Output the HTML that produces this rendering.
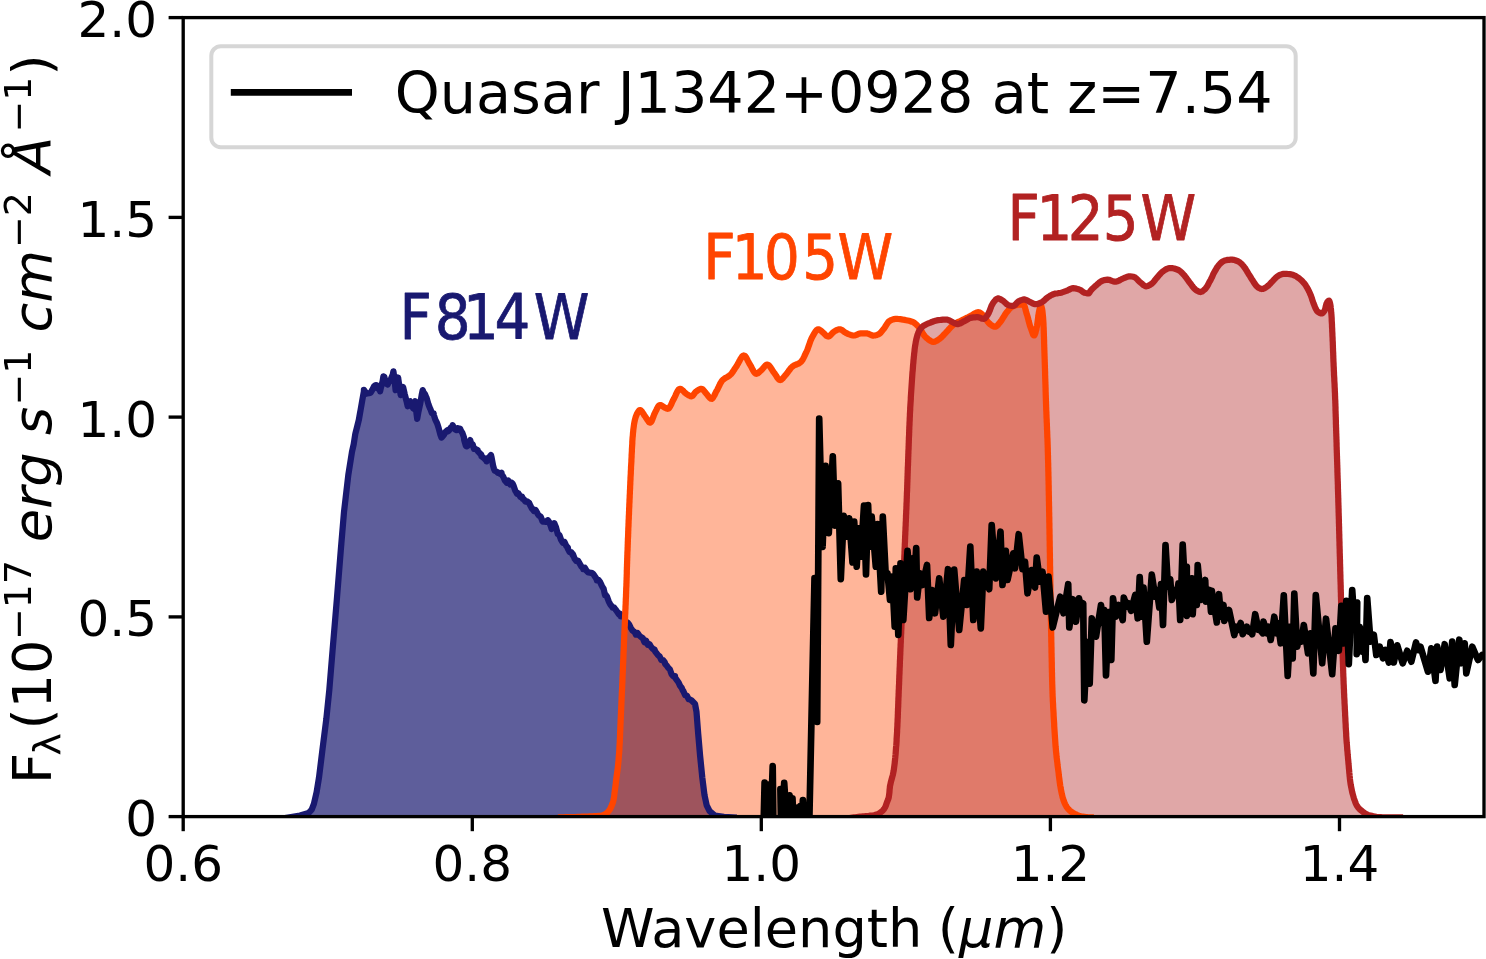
<!DOCTYPE html>
<html lang="en"><head><meta charset="utf-8"><title>Quasar J1342+0928 spectrum and HST filters</title>
<style>html,body{margin:0;padding:0;background:#fff;}body{width:1486px;height:959px;overflow:hidden;}svg{display:block;}text{font-family:"DejaVu Sans","Liberation Sans",sans-serif;fill:#000;}.it{font-style:oblique;}</style>
</head><body>
<svg width="1486" height="959" viewBox="0 0 1486 959">
<rect x="0" y="0" width="1486" height="959" fill="#ffffff"/>
<defs><clipPath id="ax"><rect x="183.2" y="17.6" width="1300.8" height="799.0"/></clipPath></defs>
<g clip-path="url(#ax)">
<path d="M288.0,817.6 L300.0,815.5 L308.5,813.1 L311.7,809.7 L313.9,803.9 L316.6,792.2 L319.0,777.6 L322.6,748.4 L326.3,719.2 L329.3,690.0 L332.6,650.0 L336.8,600.0 L340.8,550.0 L344.0,512.0 L348.3,475.0 L352.0,451.7 L353.7,444.3 L355.1,435.1 L355.4,433.5 L357.1,426.9 L358.8,420.1 L360.1,412.6 L360.5,410.5 L362.2,400.7 L363.9,391.3 L363.9,389.8 L365.6,392.2 L366.4,393.8 L367.3,393.3 L369.0,393.1 L370.7,392.7 L371.4,391.3 L372.4,389.6 L374.1,386.3 L375.8,385.0 L376.4,385.0 L377.5,388.4 L379.2,388.7 L380.1,391.3 L380.9,387.6 L382.6,381.4 L383.4,376.3 L384.3,376.9 L386.0,383.2 L386.4,383.8 L387.7,384.5 L389.4,380.8 L390.1,381.3 L391.1,378.5 L392.8,374.6 L393.4,371.3 L394.5,379.2 L395.6,390.1 L396.2,387.4 L397.9,379.7 L398.1,377.5 L399.6,388.3 L400.7,395.1 L401.3,393.0 L403.0,386.9 L403.2,387.5 L404.7,394.0 L406.4,400.6 L407.7,406.3 L408.1,405.4 L409.8,401.6 L410.2,401.3 L411.5,405.2 L413.2,408.4 L413.9,408.8 L414.9,402.3 L415.2,401.3 L416.6,414.1 L417.2,418.8 L418.3,412.4 L420.0,404.5 L420.2,403.8 L421.7,394.9 L422.7,390.1 L423.4,392.1 L425.1,394.4 L426.4,397.6 L426.8,398.5 L428.5,404.5 L430.2,408.8 L430.2,408.5 L431.9,413.1 L433.6,413.4 L433.9,415.1 L435.3,419.6 L437.0,423.0 L437.7,425.1 L438.7,428.2 L440.4,434.6 L441.5,437.6 L442.1,437.0 L443.8,435.0 L445.5,431.8 L447.2,430.4 L447.7,431.4 L448.9,430.6 L450.6,427.8 L452.3,426.3 L452.7,425.1 L454.0,428.4 L455.7,429.7 L456.5,430.1 L457.4,428.2 L459.1,428.5 L460.2,428.8 L460.8,430.5 L462.5,433.2 L464.0,437.6 L464.2,440.1 L465.9,445.9 L466.5,446.4 L467.6,445.8 L469.3,441.6 L470.2,440.1 L471.0,443.1 L472.7,444.5 L474.0,448.9 L474.4,448.3 L476.1,449.4 L477.7,450.1 L477.8,451.1 L479.5,453.0 L481.2,454.6 L481.5,456.4 L482.9,457.2 L484.6,458.8 L486.3,460.5 L486.5,461.4 L488.0,458.1 L489.7,456.6 L491.0,455.1 L491.4,456.7 L493.1,465.7 L494.0,468.9 L494.8,470.7 L496.5,471.5 L497.8,472.7 L498.2,472.5 L499.9,473.7 L501.5,472.7 L501.6,474.2 L503.3,476.8 L505.0,480.7 L505.3,480.2 L506.7,482.7 L508.4,480.6 L509.0,482.7 L510.1,484.4 L511.8,482.8 L512.8,483.9 L513.5,485.5 L515.2,490.6 L516.5,492.7 L516.9,493.8 L518.6,493.5 L520.3,497.0 L522.0,496.6 L522.8,498.9 L523.7,499.0 L525.4,501.6 L527.1,501.3 L528.8,502.9 L529.1,502.7 L530.5,505.9 L532.2,509.1 L532.8,508.9 L533.9,511.0 L535.6,510.0 L537.3,513.1 L537.8,514.0 L539.0,515.6 L540.7,516.7 L542.4,521.0 L542.8,521.5 L544.1,521.5 L545.8,521.9 L547.5,521.9 L547.8,520.2 L549.2,522.1 L550.9,526.4 L551.6,529.0 L552.6,527.9 L554.3,523.1 L554.6,524.0 L556.0,527.3 L557.7,533.8 L557.8,534.0 L559.4,535.1 L561.1,539.9 L562.8,542.7 L562.9,541.5 L564.5,541.9 L566.2,545.8 L567.9,547.7 L567.9,548.9 L569.6,552.1 L571.3,552.1 L572.9,555.3 L573.0,554.2 L574.7,558.9 L576.4,561.1 L577.9,561.5 L578.1,560.7 L579.8,563.7 L581.5,566.8 L582.9,567.8 L583.2,569.2 L584.9,567.9 L586.6,570.8 L588.3,572.5 L590.0,572.7 L590.4,572.8 L591.7,572.9 L593.4,574.1 L595.1,576.7 L596.6,579.0 L596.8,580.4 L598.5,580.0 L600.2,582.2 L601.9,585.9 L602.9,587.8 L603.6,588.6 L605.0,595.0 L605.3,594.2 L607.0,596.6 L608.7,601.3 L610.4,604.7 L612.1,606.6 L612.5,607.5 L613.8,607.3 L615.5,609.4 L617.2,611.8 L618.9,614.4 L620.0,613.8 L620.6,616.2 L622.3,615.5 L624.0,616.7 L625.7,621.6 L627.4,623.9 L627.5,622.5 L629.1,624.5 L630.8,627.9 L632.5,630.5 L634.2,631.8 L635.0,632.6 L635.9,634.6 L637.6,633.1 L639.3,635.5 L641.0,637.0 L642.7,637.9 L644.4,642.2 L645.1,641.3 L646.1,640.7 L647.8,644.7 L649.5,644.2 L651.2,647.0 L652.9,648.9 L654.6,649.7 L655.1,651.3 L656.3,652.9 L658.0,655.1 L659.7,656.5 L661.4,660.1 L663.1,660.1 L664.8,662.4 L665.1,663.8 L666.5,665.3 L668.2,667.7 L669.9,669.4 L671.6,674.3 L673.3,676.3 L675.0,676.1 L675.1,677.6 L676.7,679.8 L678.4,682.2 L680.1,685.8 L681.8,688.0 L682.6,690.1 L683.5,691.4 L685.2,695.3 L686.9,695.7 L688.6,699.1 L688.9,698.9 L691.4,700.2 L695.0,703.9 L696.5,711.9 L698.2,733.8 L700.1,755.7 L702.3,777.6 L704.5,795.1 L706.7,805.3 L709.6,811.2 L715.0,815.7 L724.0,816.8 L733.7,817.4 L733.7,816.6 L288.0,816.6 Z" fill="#191970" fill-opacity="0.7"/>
<path d="M561.0,817.3 L562.5,817.3 L564.0,817.3 L565.5,817.2 L567.0,817.2 L568.5,817.2 L570.0,817.1 L571.5,817.1 L573.0,817.1 L574.5,817.0 L576.0,817.0 L577.5,816.9 L579.0,816.8 L580.5,816.8 L582.0,816.7 L583.5,816.7 L585.0,816.6 L586.5,816.5 L588.0,816.5 L589.5,816.4 L591.0,816.4 L592.5,816.3 L594.0,816.2 L595.5,816.2 L597.0,816.1 L598.5,815.9 L600.0,815.8 L601.5,815.6 L602.9,815.2 L604.3,814.7 L605.6,813.9 L606.9,813.0 L607.9,812.0 L608.8,810.8 L609.7,809.6 L610.5,808.2 L611.1,806.9 L611.7,805.5 L612.3,804.1 L612.8,802.7 L613.2,801.2 L613.5,799.8 L613.8,798.3 L614.1,796.9 L614.3,795.4 L614.4,793.9 L614.6,792.4 L614.8,790.9 L615.0,789.4 L615.2,787.9 L615.4,786.4 L615.6,784.9 L615.8,783.4 L615.9,782.0 L616.1,780.5 L616.3,779.0 L616.5,777.5 L616.7,776.0 L616.9,774.5 L617.1,773.0 L617.3,771.5 L617.5,770.1 L617.7,768.6 L617.9,767.1 L618.0,765.6 L618.2,764.1 L618.3,762.6 L618.5,761.1 L618.6,759.6 L618.7,758.1 L618.8,756.6 L618.9,755.1 L619.1,753.6 L619.2,752.1 L619.3,750.6 L619.4,749.1 L619.4,747.6 L619.5,746.1 L619.6,744.6 L619.7,743.1 L619.8,741.6 L619.8,740.2 L619.9,738.7 L620.0,737.2 L620.0,735.7 L620.1,734.2 L620.1,732.7 L620.2,731.2 L620.3,729.7 L620.3,728.2 L620.4,726.7 L620.4,725.2 L620.5,723.7 L620.6,722.2 L620.6,720.7 L620.7,719.2 L620.8,717.7 L620.8,716.2 L620.9,714.7 L621.0,713.2 L621.0,711.7 L621.1,710.2 L621.2,708.7 L621.2,707.2 L621.3,705.7 L621.4,704.2 L621.4,702.7 L621.5,701.2 L621.6,699.7 L621.6,698.2 L621.7,696.7 L621.8,695.2 L621.8,693.7 L621.9,692.2 L622.0,690.7 L622.0,689.2 L622.1,687.7 L622.2,686.2 L622.2,684.7 L622.3,683.2 L622.4,681.7 L622.4,680.2 L622.5,678.7 L622.5,677.2 L622.6,675.7 L622.7,674.2 L622.7,672.7 L622.8,671.2 L622.9,669.7 L622.9,668.2 L623.0,666.7 L623.0,665.2 L623.1,663.7 L623.2,662.2 L623.2,660.7 L623.3,659.2 L623.4,657.7 L623.4,656.2 L623.5,654.7 L623.5,653.2 L623.6,651.7 L623.7,650.2 L623.7,648.7 L623.8,647.2 L623.9,645.7 L623.9,644.2 L624.0,642.7 L624.0,641.2 L624.1,639.7 L624.2,638.2 L624.2,636.7 L624.3,635.2 L624.4,633.7 L624.4,632.2 L624.5,630.7 L624.6,629.2 L624.6,627.8 L624.7,626.3 L624.8,624.8 L624.8,623.3 L624.9,621.8 L625.0,620.3 L625.0,618.8 L625.1,617.3 L625.1,615.8 L625.2,614.3 L625.3,612.8 L625.3,611.3 L625.4,609.8 L625.5,608.3 L625.5,606.8 L625.6,605.3 L625.7,603.8 L625.7,602.3 L625.8,600.8 L625.8,599.3 L625.9,597.8 L626.0,596.3 L626.0,594.8 L626.1,593.3 L626.1,591.8 L626.2,590.3 L626.2,588.8 L626.3,587.3 L626.4,585.8 L626.4,584.3 L626.5,582.8 L626.5,581.3 L626.6,579.8 L626.6,578.3 L626.7,576.8 L626.7,575.3 L626.8,573.8 L626.8,572.3 L626.8,570.8 L626.9,569.3 L626.9,567.8 L627.0,566.3 L627.0,564.8 L627.1,563.3 L627.1,561.8 L627.2,560.3 L627.2,558.8 L627.3,557.3 L627.3,555.8 L627.4,554.3 L627.4,552.8 L627.5,551.3 L627.6,549.8 L627.6,548.3 L627.7,546.8 L627.7,545.3 L627.8,543.8 L627.8,542.3 L627.9,540.8 L627.9,539.3 L628.0,537.8 L628.1,536.3 L628.1,534.8 L628.2,533.3 L628.2,531.8 L628.3,530.3 L628.3,528.8 L628.4,527.3 L628.5,525.8 L628.5,524.3 L628.6,522.8 L628.6,521.3 L628.7,519.8 L628.8,518.3 L628.8,516.8 L628.9,515.3 L629.0,513.8 L629.0,512.3 L629.1,510.8 L629.1,509.3 L629.2,507.8 L629.3,506.3 L629.3,504.8 L629.4,503.3 L629.5,501.8 L629.5,500.3 L629.6,498.8 L629.7,497.3 L629.7,495.8 L629.8,494.4 L629.9,492.9 L629.9,491.4 L630.0,489.9 L630.1,488.4 L630.1,486.9 L630.2,485.4 L630.3,483.9 L630.3,482.4 L630.4,480.9 L630.5,479.4 L630.5,477.9 L630.6,476.4 L630.7,474.9 L630.8,473.4 L630.8,471.9 L630.9,470.4 L631.0,468.9 L631.0,467.4 L631.1,465.9 L631.2,464.4 L631.3,462.9 L631.4,461.4 L631.4,459.9 L631.5,458.4 L631.6,456.9 L631.6,455.4 L631.7,453.9 L631.8,452.4 L631.9,450.9 L631.9,449.4 L632.0,447.9 L632.1,446.4 L632.2,444.9 L632.3,443.4 L632.3,441.9 L632.4,440.4 L632.5,438.9 L632.6,437.4 L632.8,435.9 L632.9,434.4 L633.0,432.9 L633.2,431.4 L633.3,429.9 L633.5,428.4 L633.7,426.9 L633.9,425.4 L634.1,423.9 L634.4,422.4 L634.7,420.9 L635.0,419.5 L635.4,418.1 L635.8,416.7 L636.5,415.0 L637.2,413.3 L638.1,411.8 L639.0,410.6 L639.9,410.1 L640.7,410.3 L641.7,411.2 L642.6,412.6 L643.6,414.1 L644.5,415.6 L645.5,416.9 L646.5,418.4 L647.4,419.9 L648.4,421.3 L649.3,422.3 L650.1,422.6 L650.9,422.2 L651.6,421.2 L652.2,419.8 L652.8,418.2 L653.5,416.4 L654.1,414.6 L654.8,413.1 L655.5,411.7 L656.3,410.1 L657.1,408.4 L657.9,406.9 L658.7,405.8 L659.7,405.1 L660.8,405.2 L662.1,405.8 L663.6,406.8 L665.1,407.8 L666.5,408.5 L667.6,408.8 L668.6,408.5 L669.4,407.7 L670.2,406.4 L671.0,404.9 L671.7,403.3 L672.4,401.6 L673.2,400.0 L674.0,398.6 L674.7,397.2 L675.5,395.5 L676.2,393.8 L677.0,392.2 L677.7,390.8 L678.6,389.6 L679.4,389.0 L680.4,388.8 L681.4,389.3 L682.6,390.3 L683.8,391.5 L685.0,392.8 L686.3,393.8 L687.6,394.6 L689.0,395.5 L690.4,396.1 L691.6,396.3 L692.7,395.7 L693.7,394.5 L694.7,393.1 L695.8,391.8 L697.0,390.9 L698.3,390.0 L699.8,389.2 L701.1,388.8 L702.2,389.0 L703.3,389.9 L704.4,391.2 L705.4,392.6 L706.4,393.8 L707.5,395.1 L708.6,396.5 L709.7,397.8 L710.7,398.6 L711.7,398.8 L712.6,398.2 L713.4,397.0 L714.3,395.5 L715.1,393.9 L715.8,392.3 L716.6,390.9 L717.4,389.6 L718.0,388.2 L718.7,386.8 L719.4,385.4 L720.0,384.0 L720.8,382.7 L721.5,381.4 L722.4,380.3 L723.4,379.4 L724.6,378.5 L725.9,377.7 L727.3,377.0 L728.6,376.2 L729.8,375.3 L730.9,374.3 L731.8,373.2 L732.7,372.0 L733.5,370.7 L734.4,369.4 L735.2,368.1 L736.0,366.9 L736.9,365.6 L737.7,364.1 L738.6,362.5 L739.5,360.9 L740.3,359.3 L741.2,357.9 L742.0,356.7 L742.9,355.9 L743.7,355.5 L744.6,355.7 L745.4,356.4 L746.2,357.6 L747.0,359.0 L747.8,360.7 L748.7,362.3 L749.5,363.9 L750.3,365.2 L751.2,366.7 L752.0,368.3 L752.8,369.9 L753.7,371.4 L754.5,372.6 L755.5,373.5 L756.4,373.8 L757.6,373.4 L758.8,372.5 L760.0,371.3 L761.3,370.2 L762.4,369.1 L763.5,367.8 L764.6,366.4 L765.7,365.3 L766.7,364.6 L767.7,364.6 L768.7,365.2 L769.7,366.2 L770.7,367.6 L771.6,369.0 L772.6,370.6 L773.5,372.0 L774.5,373.2 L775.4,374.6 L776.4,376.1 L777.3,377.6 L778.3,378.9 L779.2,379.7 L780.2,380.0 L781.3,379.7 L782.3,378.8 L783.4,377.6 L784.5,376.3 L785.6,374.9 L786.6,373.7 L787.6,372.5 L788.5,371.2 L789.4,370.0 L790.3,368.8 L791.3,367.6 L792.3,366.6 L793.5,365.8 L794.8,365.1 L796.3,364.5 L797.8,363.9 L799.1,363.3 L800.2,362.5 L801.2,361.6 L802.1,360.4 L802.9,359.2 L803.6,357.8 L804.3,356.4 L805.0,354.9 L805.6,353.5 L806.3,352.1 L806.9,350.8 L807.5,349.4 L808.0,348.0 L808.5,346.5 L809.0,345.1 L809.5,343.7 L810.0,342.2 L810.5,340.8 L811.1,339.4 L811.7,338.1 L812.4,336.8 L813.1,335.5 L814.0,333.9 L814.9,332.4 L815.8,331.0 L816.8,329.9 L817.9,329.3 L819.0,329.4 L820.2,330.1 L821.5,331.2 L822.8,332.3 L824.0,333.3 L825.2,334.6 L826.3,335.7 L827.5,336.4 L828.6,336.5 L829.8,335.9 L830.9,334.8 L832.0,333.5 L833.2,332.3 L834.4,331.4 L835.7,330.6 L837.2,329.9 L838.6,329.4 L840.0,329.3 L841.3,329.7 L842.6,330.5 L843.8,331.4 L845.1,332.4 L846.5,333.2 L847.8,333.8 L849.3,334.4 L850.7,334.9 L852.2,335.3 L853.6,335.5 L855.1,335.4 L856.5,334.9 L857.9,334.2 L859.3,333.6 L860.8,333.4 L862.3,333.4 L863.8,333.4 L865.3,333.4 L866.8,333.4 L868.2,333.7 L869.6,334.3 L871.0,335.0 L872.5,335.5 L873.9,335.5 L875.5,335.3 L877.0,334.9 L878.3,334.4 L879.5,333.8 L880.6,332.7 L881.6,331.5 L882.6,330.3 L883.6,329.1 L884.5,327.9 L885.4,326.5 L886.2,325.1 L887.0,323.8 L887.9,322.6 L888.8,321.5 L889.9,320.8 L891.2,320.1 L892.6,319.5 L894.2,319.1 L895.7,318.8 L897.1,318.9 L898.6,319.0 L900.1,319.2 L901.6,319.4 L903.1,319.7 L904.6,319.9 L906.1,320.2 L907.6,320.5 L909.1,320.8 L910.5,321.2 L911.9,321.7 L913.2,322.2 L914.5,323.0 L915.7,323.9 L916.8,325.0 L917.9,326.1 L918.9,327.2 L919.8,328.4 L920.7,329.6 L921.4,331.0 L922.2,332.3 L923.0,333.7 L923.8,334.9 L924.7,336.1 L925.7,337.1 L926.8,338.1 L928.1,339.2 L929.4,340.2 L930.7,341.0 L932.1,341.6 L933.4,341.8 L934.8,341.6 L936.2,341.0 L937.6,340.2 L938.9,339.3 L940.1,338.4 L941.2,337.5 L942.3,336.4 L943.3,335.3 L944.3,334.2 L945.4,333.1 L946.4,332.0 L947.5,330.9 L948.5,329.7 L949.5,328.6 L950.5,327.5 L951.6,326.4 L952.7,325.4 L953.8,324.5 L955.0,323.6 L956.3,322.9 L957.6,322.2 L959.0,321.6 L960.4,321.0 L961.8,320.3 L963.1,319.7 L964.4,319.0 L965.8,318.3 L967.1,317.7 L968.5,317.0 L969.8,316.3 L971.2,315.7 L972.5,314.9 L973.9,314.0 L975.2,313.2 L976.6,312.5 L977.9,312.2 L979.2,312.3 L980.5,313.0 L981.8,314.0 L983.0,315.2 L984.0,316.2 L984.9,317.4 L985.7,318.7 L986.5,320.0 L987.4,321.3 L988.3,322.5 L989.3,323.5 L990.5,324.5 L991.9,325.5 L993.3,326.3 L994.6,326.7 L995.8,326.6 L996.9,325.9 L998.1,324.7 L999.1,323.3 L1000.2,322.1 L1001.1,320.9 L1001.9,319.7 L1002.7,318.4 L1003.5,317.1 L1004.3,315.8 L1005.1,314.5 L1005.9,313.3 L1006.9,312.1 L1007.8,310.9 L1008.8,309.7 L1009.9,308.5 L1011.0,307.5 L1012.1,306.7 L1013.4,306.1 L1014.8,305.5 L1016.2,305.1 L1017.8,304.7 L1019.3,304.7 L1020.9,304.7 L1022.5,304.7 L1023.5,304.7 L1024.2,305.5 L1024.8,306.8 L1025.3,308.6 L1025.7,310.4 L1026.2,312.1 L1026.6,313.6 L1027.1,315.0 L1027.5,316.4 L1027.9,317.9 L1028.3,319.4 L1028.6,320.8 L1029.0,322.3 L1029.4,323.7 L1029.8,325.2 L1030.3,326.6 L1030.8,328.1 L1031.4,329.8 L1032.0,331.6 L1032.6,333.3 L1033.2,334.7 L1033.8,335.4 L1034.3,335.4 L1034.8,334.5 L1035.4,333.1 L1035.8,331.3 L1036.3,329.4 L1036.6,327.7 L1037.0,326.2 L1037.2,324.7 L1037.4,323.2 L1037.6,321.7 L1037.8,320.2 L1038.0,318.7 L1038.2,317.2 L1038.3,315.7 L1038.6,314.3 L1038.8,312.8 L1039.1,311.3 L1039.4,309.8 L1040.0,308.0 L1040.5,306.4 L1041.0,305.9 L1041.4,306.4 L1041.7,307.5 L1042.1,309.1 L1042.4,310.9 L1042.6,312.8 L1042.8,314.8 L1043.0,316.5 L1043.1,318.0 L1043.2,319.4 L1043.3,320.9 L1043.4,322.4 L1043.5,323.9 L1043.5,325.4 L1043.6,326.9 L1043.7,328.4 L1043.7,329.9 L1043.8,331.4 L1043.8,332.9 L1043.9,334.4 L1043.9,335.9 L1044.0,337.4 L1044.0,338.9 L1044.1,340.4 L1044.1,341.9 L1044.1,343.4 L1044.2,344.9 L1044.2,346.4 L1044.3,347.9 L1044.3,349.4 L1044.4,350.9 L1044.4,352.4 L1044.5,353.9 L1044.5,355.4 L1044.6,356.9 L1044.6,358.4 L1044.7,359.9 L1044.7,361.4 L1044.8,362.9 L1044.8,364.4 L1044.9,365.9 L1044.9,367.4 L1045.0,368.9 L1045.0,370.4 L1045.1,371.9 L1045.1,373.4 L1045.1,374.9 L1045.2,376.4 L1045.2,377.9 L1045.3,379.4 L1045.3,380.9 L1045.4,382.4 L1045.4,383.9 L1045.5,385.4 L1045.5,386.9 L1045.6,388.4 L1045.6,389.9 L1045.6,391.4 L1045.7,392.9 L1045.7,394.4 L1045.8,395.9 L1045.8,397.4 L1045.9,398.9 L1045.9,400.4 L1046.0,401.9 L1046.0,403.4 L1046.1,404.9 L1046.1,406.4 L1046.2,407.9 L1046.2,409.4 L1046.3,410.9 L1046.4,412.4 L1046.4,413.9 L1046.5,415.4 L1046.5,416.9 L1046.6,418.4 L1046.7,419.9 L1046.7,421.4 L1046.8,422.9 L1046.9,424.4 L1046.9,425.9 L1047.0,427.4 L1047.0,428.9 L1047.1,430.4 L1047.2,431.9 L1047.2,433.4 L1047.3,434.9 L1047.3,436.4 L1047.4,437.9 L1047.5,439.4 L1047.5,440.9 L1047.6,442.4 L1047.6,443.9 L1047.7,445.4 L1047.7,446.9 L1047.8,448.4 L1047.8,449.9 L1047.8,451.4 L1047.9,452.9 L1047.9,454.4 L1048.0,455.9 L1048.0,457.4 L1048.0,458.9 L1048.1,460.4 L1048.1,461.9 L1048.2,463.4 L1048.2,464.9 L1048.2,466.4 L1048.3,467.9 L1048.3,469.4 L1048.3,470.9 L1048.4,472.4 L1048.4,473.9 L1048.4,475.4 L1048.5,476.9 L1048.5,478.4 L1048.5,479.9 L1048.6,481.4 L1048.6,482.9 L1048.6,484.4 L1048.7,485.9 L1048.7,487.4 L1048.7,488.9 L1048.7,490.4 L1048.8,491.9 L1048.8,493.4 L1048.8,494.9 L1048.9,496.4 L1048.9,497.9 L1048.9,499.4 L1048.9,500.9 L1049.0,502.4 L1049.0,503.9 L1049.0,505.4 L1049.1,506.9 L1049.1,508.4 L1049.1,509.9 L1049.1,511.4 L1049.2,512.9 L1049.2,514.4 L1049.2,515.9 L1049.3,517.4 L1049.3,518.9 L1049.3,520.4 L1049.3,521.9 L1049.4,523.4 L1049.4,524.9 L1049.4,526.4 L1049.4,527.9 L1049.5,529.4 L1049.5,530.9 L1049.5,532.4 L1049.5,533.9 L1049.6,535.4 L1049.6,536.9 L1049.6,538.4 L1049.6,539.9 L1049.7,541.4 L1049.7,542.9 L1049.7,544.4 L1049.7,545.9 L1049.8,547.4 L1049.8,548.9 L1049.8,550.4 L1049.8,551.9 L1049.9,553.4 L1049.9,554.9 L1049.9,556.4 L1049.9,557.9 L1050.0,559.4 L1050.0,560.9 L1050.0,562.4 L1050.0,563.9 L1050.0,565.4 L1050.1,566.9 L1050.1,568.4 L1050.1,569.9 L1050.1,571.4 L1050.2,572.9 L1050.2,574.4 L1050.2,575.9 L1050.2,577.4 L1050.3,578.9 L1050.3,580.4 L1050.3,581.9 L1050.3,583.4 L1050.4,584.9 L1050.4,586.4 L1050.4,587.9 L1050.4,589.4 L1050.4,590.9 L1050.5,592.4 L1050.5,593.9 L1050.5,595.4 L1050.5,596.9 L1050.6,598.4 L1050.6,599.9 L1050.6,601.4 L1050.6,602.9 L1050.7,604.4 L1050.7,605.9 L1050.7,607.4 L1050.8,608.9 L1050.8,610.4 L1050.8,611.9 L1050.8,613.4 L1050.9,614.9 L1050.9,616.4 L1050.9,617.9 L1050.9,619.4 L1051.0,620.9 L1051.0,622.3 L1051.0,623.8 L1051.0,625.3 L1051.1,626.8 L1051.1,628.3 L1051.1,629.8 L1051.1,631.3 L1051.2,632.8 L1051.2,634.3 L1051.2,635.8 L1051.3,637.3 L1051.3,638.8 L1051.3,640.3 L1051.3,641.8 L1051.4,643.3 L1051.4,644.8 L1051.4,646.3 L1051.5,647.8 L1051.5,649.3 L1051.5,650.8 L1051.5,652.3 L1051.6,653.8 L1051.6,655.3 L1051.6,656.8 L1051.7,658.3 L1051.7,659.8 L1051.7,661.3 L1051.8,662.8 L1051.8,664.3 L1051.8,665.8 L1051.8,667.3 L1051.9,668.8 L1051.9,670.3 L1051.9,671.8 L1052.0,673.3 L1052.0,674.8 L1052.0,676.3 L1052.1,677.8 L1052.1,679.3 L1052.1,680.8 L1052.2,682.3 L1052.2,683.8 L1052.3,685.3 L1052.3,686.8 L1052.4,688.3 L1052.4,689.8 L1052.5,691.3 L1052.5,692.8 L1052.6,694.3 L1052.6,695.8 L1052.7,697.3 L1052.8,698.8 L1052.8,700.3 L1052.9,701.8 L1053.0,703.3 L1053.1,704.8 L1053.1,706.3 L1053.2,707.8 L1053.3,709.3 L1053.4,710.8 L1053.5,712.3 L1053.6,713.8 L1053.6,715.3 L1053.7,716.8 L1053.8,718.3 L1053.9,719.8 L1054.0,721.3 L1054.1,722.8 L1054.2,724.3 L1054.2,725.8 L1054.3,727.3 L1054.4,728.8 L1054.5,730.3 L1054.6,731.8 L1054.7,733.3 L1054.8,734.8 L1054.9,736.3 L1055.0,737.8 L1055.1,739.3 L1055.2,740.8 L1055.3,742.3 L1055.4,743.8 L1055.5,745.2 L1055.6,746.7 L1055.8,748.2 L1055.9,749.7 L1056.0,751.2 L1056.2,752.7 L1056.3,754.2 L1056.5,755.7 L1056.6,757.2 L1056.8,758.7 L1057.0,760.2 L1057.2,761.7 L1057.4,763.2 L1057.5,764.6 L1057.7,766.1 L1057.9,767.6 L1058.1,769.1 L1058.3,770.6 L1058.5,772.1 L1058.7,773.6 L1058.8,775.1 L1059.0,776.6 L1059.2,778.0 L1059.4,779.5 L1059.6,781.0 L1059.8,782.5 L1060.0,784.0 L1060.2,785.5 L1060.5,787.0 L1060.7,788.4 L1061.0,789.9 L1061.3,791.4 L1061.6,792.9 L1061.9,794.3 L1062.3,795.8 L1062.6,797.3 L1063.1,798.7 L1063.5,800.1 L1064.0,801.5 L1064.6,802.9 L1065.2,804.3 L1065.9,805.7 L1066.7,807.0 L1067.6,808.2 L1068.5,809.3 L1069.5,810.3 L1070.7,811.3 L1071.9,812.2 L1073.2,813.0 L1074.5,813.7 L1075.9,814.4 L1077.3,815.1 L1078.7,815.7 L1080.1,816.1 L1081.5,816.4 L1083.0,816.6 L1084.5,816.8 L1085.9,817.0 L1087.4,817.2 L1089.0,817.3 L1090.5,817.3 L1090.8,817.3 L1090.8,816.6 L561.0,816.6 Z" fill="#ff4500" fill-opacity="0.4"/>
<path d="M848.0,818.2 L849.5,818.0 L851.0,817.8 L852.5,817.6 L854.0,817.4 L855.4,817.3 L856.9,817.1 L858.4,816.9 L859.9,816.7 L861.4,816.6 L862.9,816.4 L864.4,816.3 L865.9,816.1 L867.4,816.0 L868.9,815.9 L870.4,815.7 L871.9,815.5 L873.3,815.3 L874.8,815.0 L876.3,814.6 L877.7,814.1 L879.0,813.5 L880.3,812.7 L881.5,811.7 L882.6,810.7 L883.6,809.5 L884.5,808.3 L885.2,807.1 L885.8,805.7 L886.3,804.2 L886.8,802.8 L887.3,801.4 L887.9,800.0 L888.4,798.6 L888.8,797.2 L889.0,795.7 L889.2,794.2 L889.4,792.7 L889.5,791.2 L889.6,789.7 L889.8,788.2 L889.9,786.7 L890.2,785.2 L890.5,783.8 L890.8,782.3 L891.2,780.9 L891.6,779.4 L892.0,777.9 L892.4,776.5 L892.8,775.0 L893.1,773.6 L893.4,772.1 L893.7,770.6 L893.9,769.2 L894.1,767.7 L894.3,766.2 L894.5,764.7 L894.7,763.2 L894.8,761.7 L895.0,760.3 L895.1,758.8 L895.3,757.3 L895.4,755.8 L895.6,754.3 L895.7,752.8 L895.8,751.3 L895.9,749.8 L896.0,748.3 L896.1,746.8 L896.3,745.3 L896.4,743.8 L896.5,742.3 L896.6,740.8 L896.6,739.3 L896.7,737.8 L896.8,736.3 L896.9,734.8 L897.0,733.3 L897.1,731.8 L897.1,730.3 L897.2,728.8 L897.3,727.3 L897.4,725.8 L897.4,724.3 L897.5,722.8 L897.6,721.3 L897.6,719.8 L897.7,718.3 L897.8,716.8 L897.8,715.3 L897.9,713.8 L897.9,712.3 L898.0,710.8 L898.0,709.3 L898.1,707.8 L898.2,706.3 L898.2,704.8 L898.3,703.3 L898.3,701.8 L898.4,700.3 L898.4,698.8 L898.5,697.3 L898.6,695.8 L898.6,694.3 L898.7,692.8 L898.7,691.3 L898.8,689.8 L898.9,688.3 L898.9,686.8 L899.0,685.3 L899.1,683.8 L899.1,682.3 L899.2,680.8 L899.2,679.3 L899.3,677.8 L899.3,676.3 L899.4,674.8 L899.5,673.3 L899.5,671.9 L899.6,670.4 L899.6,668.9 L899.7,667.4 L899.8,665.9 L899.8,664.4 L899.9,662.9 L899.9,661.4 L900.0,659.9 L900.1,658.4 L900.1,656.9 L900.2,655.4 L900.3,653.9 L900.3,652.4 L900.4,650.9 L900.4,649.4 L900.5,647.9 L900.6,646.4 L900.6,644.9 L900.7,643.4 L900.8,641.9 L900.8,640.4 L900.9,638.9 L901.0,637.4 L901.0,635.9 L901.1,634.4 L901.2,632.9 L901.2,631.4 L901.3,629.9 L901.4,628.4 L901.4,626.9 L901.5,625.4 L901.5,623.9 L901.6,622.4 L901.7,620.9 L901.7,619.4 L901.8,617.9 L901.9,616.4 L901.9,614.9 L902.0,613.4 L902.1,611.9 L902.1,610.4 L902.2,608.9 L902.3,607.4 L902.3,605.9 L902.4,604.4 L902.5,602.9 L902.5,601.4 L902.6,599.9 L902.6,598.4 L902.7,596.9 L902.8,595.4 L902.8,593.9 L902.9,592.4 L903.0,590.9 L903.0,589.4 L903.1,587.9 L903.1,586.4 L903.2,584.9 L903.3,583.4 L903.3,581.9 L903.4,580.4 L903.4,578.9 L903.5,577.4 L903.6,575.9 L903.6,574.4 L903.7,572.9 L903.7,571.4 L903.8,569.9 L903.9,568.4 L903.9,566.9 L904.0,565.4 L904.0,563.9 L904.1,562.4 L904.2,560.9 L904.2,559.4 L904.3,557.9 L904.3,556.5 L904.4,555.0 L904.5,553.5 L904.5,552.0 L904.6,550.5 L904.6,549.0 L904.7,547.5 L904.8,546.0 L904.8,544.5 L904.9,543.0 L905.0,541.5 L905.0,540.0 L905.1,538.5 L905.1,537.0 L905.2,535.5 L905.3,534.0 L905.3,532.5 L905.4,531.0 L905.5,529.5 L905.5,528.0 L905.6,526.5 L905.7,525.0 L905.7,523.5 L905.8,522.0 L905.9,520.5 L905.9,519.0 L906.0,517.5 L906.0,516.0 L906.1,514.5 L906.2,513.0 L906.2,511.5 L906.3,510.0 L906.4,508.5 L906.4,507.0 L906.5,505.5 L906.5,504.0 L906.6,502.5 L906.7,501.0 L906.7,499.5 L906.8,498.0 L906.8,496.5 L906.9,495.0 L906.9,493.5 L907.0,492.0 L907.1,490.5 L907.1,489.0 L907.2,487.5 L907.2,486.0 L907.3,484.5 L907.3,483.0 L907.4,481.5 L907.4,480.0 L907.5,478.5 L907.5,477.0 L907.6,475.5 L907.6,474.0 L907.7,472.5 L907.7,471.0 L907.8,469.5 L907.8,468.0 L907.9,466.5 L908.0,465.0 L908.0,463.5 L908.1,462.0 L908.1,460.5 L908.2,459.0 L908.2,457.5 L908.3,456.0 L908.3,454.5 L908.4,453.0 L908.4,451.5 L908.5,450.0 L908.6,448.5 L908.6,447.0 L908.7,445.5 L908.7,444.0 L908.8,442.5 L908.8,441.0 L908.9,439.5 L908.9,438.0 L909.0,436.5 L909.1,435.0 L909.1,433.5 L909.2,432.0 L909.2,430.5 L909.3,429.0 L909.3,427.5 L909.4,426.0 L909.5,424.6 L909.5,423.1 L909.6,421.6 L909.7,420.1 L909.7,418.6 L909.8,417.1 L909.9,415.6 L909.9,414.1 L910.0,412.6 L910.1,411.1 L910.2,409.6 L910.2,408.1 L910.3,406.6 L910.4,405.1 L910.5,403.6 L910.6,402.1 L910.7,400.6 L910.8,399.1 L910.8,397.6 L910.9,396.1 L911.0,394.6 L911.1,393.1 L911.2,391.6 L911.3,390.1 L911.4,388.6 L911.5,387.1 L911.6,385.6 L911.7,384.1 L911.8,382.6 L911.9,381.1 L912.0,379.6 L912.1,378.1 L912.2,376.6 L912.3,375.1 L912.4,373.6 L912.5,372.1 L912.7,370.6 L912.8,369.1 L912.9,367.7 L913.0,366.2 L913.1,364.7 L913.3,363.2 L913.4,361.7 L913.5,360.2 L913.7,358.7 L913.8,357.2 L914.0,355.7 L914.1,354.2 L914.3,352.7 L914.5,351.2 L914.6,349.7 L914.8,348.2 L915.0,346.7 L915.2,345.3 L915.5,343.8 L915.7,342.3 L916.0,340.8 L916.3,339.4 L916.7,337.9 L917.1,336.4 L917.5,334.9 L918.0,333.5 L918.5,332.2 L919.1,330.9 L919.9,329.6 L920.9,328.3 L921.9,327.2 L923.0,326.2 L924.2,325.4 L925.5,324.7 L926.9,324.0 L928.3,323.4 L929.7,322.9 L931.1,322.3 L932.5,321.8 L933.9,321.2 L935.4,320.8 L936.8,320.4 L938.3,320.2 L939.8,320.0 L941.3,319.8 L942.8,319.6 L944.3,319.5 L945.8,319.5 L947.2,319.6 L948.6,320.1 L950.0,320.8 L951.4,321.5 L952.7,322.2 L954.1,322.9 L955.5,323.6 L956.9,324.0 L958.3,324.0 L959.7,323.6 L961.1,322.9 L962.5,322.2 L963.8,321.4 L965.2,320.7 L966.5,320.0 L967.8,319.2 L969.2,318.4 L970.5,317.9 L972.0,317.6 L973.4,317.4 L975.0,317.3 L976.5,317.2 L978.0,317.2 L979.5,317.6 L981.0,318.2 L982.4,318.7 L983.7,318.8 L984.9,318.3 L986.0,317.1 L987.0,315.7 L987.9,314.4 L988.6,313.2 L989.2,311.8 L989.8,310.4 L990.3,308.9 L990.9,307.5 L991.4,306.0 L992.1,304.7 L992.8,303.4 L993.7,302.2 L994.7,300.9 L995.8,299.6 L997.0,298.7 L998.2,298.4 L999.5,298.7 L1000.9,299.5 L1002.3,300.4 L1003.6,301.2 L1004.7,302.2 L1005.9,303.4 L1007.0,304.4 L1008.2,305.1 L1009.6,305.5 L1011.1,305.8 L1012.6,305.9 L1013.9,305.6 L1015.1,304.8 L1016.2,303.6 L1017.3,302.4 L1018.5,301.4 L1019.9,300.7 L1021.3,300.1 L1022.8,299.6 L1024.2,299.4 L1025.6,299.7 L1027.0,300.4 L1028.3,301.2 L1029.7,301.8 L1031.1,302.5 L1032.5,303.3 L1033.9,303.9 L1035.3,304.2 L1036.7,304.2 L1038.2,303.8 L1039.6,303.3 L1041.0,302.6 L1042.3,302.0 L1043.5,301.1 L1044.6,300.1 L1045.7,299.0 L1046.9,298.0 L1048.0,297.1 L1049.3,296.3 L1050.6,295.5 L1052.0,294.8 L1053.3,294.2 L1054.8,293.7 L1056.2,293.5 L1057.7,293.3 L1059.2,293.0 L1060.7,292.8 L1062.1,292.4 L1063.6,291.9 L1065.0,291.4 L1066.4,290.9 L1067.8,290.3 L1069.2,289.6 L1070.6,288.9 L1071.9,288.4 L1073.4,288.2 L1074.8,288.3 L1076.3,288.6 L1077.8,289.1 L1079.2,289.5 L1080.6,290.1 L1081.8,291.0 L1083.1,292.0 L1084.4,292.7 L1085.8,293.0 L1087.5,293.3 L1088.8,293.4 L1089.6,292.3 L1090.4,291.0 L1091.4,289.8 L1092.4,288.7 L1093.5,287.7 L1094.6,286.7 L1095.8,285.7 L1096.9,284.7 L1098.1,283.7 L1099.3,282.6 L1100.5,281.7 L1101.7,281.0 L1103.1,280.5 L1104.5,280.1 L1106.0,279.8 L1107.5,279.6 L1109.0,279.8 L1110.4,280.3 L1111.9,280.9 L1113.3,281.4 L1114.8,281.7 L1116.2,281.6 L1117.6,281.2 L1118.9,280.6 L1120.3,279.9 L1121.7,279.1 L1123.1,278.5 L1124.5,277.9 L1125.9,277.3 L1127.4,276.7 L1128.8,276.4 L1130.2,276.3 L1131.8,276.5 L1133.3,276.8 L1134.6,277.2 L1135.8,278.0 L1136.9,279.0 L1138.0,280.2 L1139.1,281.3 L1140.3,282.3 L1141.5,283.3 L1142.7,284.4 L1144.0,285.4 L1145.2,286.1 L1146.5,286.3 L1147.9,286.0 L1149.3,285.3 L1150.7,284.4 L1151.9,283.6 L1152.9,282.6 L1153.9,281.5 L1154.9,280.3 L1155.8,279.0 L1156.8,277.9 L1157.8,276.7 L1158.8,275.5 L1159.8,274.4 L1160.8,273.2 L1161.9,272.2 L1163.0,271.3 L1164.2,270.5 L1165.5,269.6 L1166.9,268.9 L1168.4,268.3 L1169.8,268.0 L1171.2,268.0 L1172.7,268.2 L1174.2,268.5 L1175.7,269.0 L1177.1,269.5 L1178.4,270.0 L1179.7,270.8 L1180.8,271.8 L1182.0,272.9 L1183.0,274.0 L1184.1,275.1 L1185.0,276.2 L1186.0,277.4 L1186.8,278.6 L1187.7,279.8 L1188.6,281.1 L1189.4,282.3 L1190.4,283.5 L1191.3,284.7 L1192.2,286.0 L1193.1,287.2 L1194.1,288.3 L1195.1,289.3 L1196.3,290.2 L1197.7,291.0 L1199.1,291.7 L1200.5,292.0 L1201.9,291.6 L1203.2,290.7 L1204.4,289.7 L1205.4,288.7 L1206.3,287.6 L1207.1,286.3 L1207.9,285.0 L1208.6,283.6 L1209.3,282.2 L1210.1,280.9 L1210.8,279.6 L1211.4,278.2 L1212.1,276.9 L1212.7,275.5 L1213.3,274.1 L1214.0,272.8 L1214.7,271.5 L1215.5,270.2 L1216.2,268.9 L1217.0,267.5 L1217.9,266.3 L1218.8,265.1 L1219.8,264.0 L1220.8,263.0 L1222.0,262.0 L1223.3,261.2 L1224.7,260.5 L1226.1,260.2 L1227.5,259.9 L1229.1,259.8 L1230.6,259.7 L1232.1,259.6 L1233.6,259.8 L1235.1,260.2 L1236.5,260.7 L1237.9,261.2 L1239.2,261.9 L1240.3,262.8 L1241.5,263.8 L1242.5,265.0 L1243.5,266.1 L1244.4,267.3 L1245.3,268.5 L1246.1,269.8 L1246.9,271.1 L1247.6,272.4 L1248.4,273.7 L1249.2,274.9 L1250.0,276.2 L1250.8,277.5 L1251.6,278.8 L1252.4,280.1 L1253.2,281.3 L1254.0,282.6 L1254.9,283.9 L1255.8,285.2 L1256.7,286.3 L1257.8,287.3 L1259.0,288.0 L1260.5,288.7 L1261.9,289.0 L1263.3,288.8 L1264.7,288.1 L1266.0,287.3 L1267.3,286.4 L1268.4,285.5 L1269.5,284.4 L1270.5,283.3 L1271.5,282.2 L1272.6,281.1 L1273.6,280.0 L1274.7,278.9 L1275.8,277.8 L1276.9,276.8 L1278.1,275.9 L1279.3,275.2 L1280.7,274.6 L1282.2,274.1 L1283.7,273.8 L1285.1,273.8 L1286.7,273.9 L1288.2,274.0 L1289.7,274.2 L1291.1,274.4 L1292.6,274.7 L1294.0,275.3 L1295.4,275.9 L1296.7,276.7 L1298.0,277.6 L1299.2,278.4 L1300.3,279.3 L1301.5,280.3 L1302.5,281.4 L1303.5,282.6 L1304.5,283.7 L1305.4,284.9 L1306.2,286.2 L1307.0,287.4 L1307.7,288.8 L1308.4,290.1 L1309.1,291.5 L1309.7,292.8 L1310.3,294.2 L1310.9,295.6 L1311.4,297.0 L1311.9,298.4 L1312.3,299.9 L1312.8,301.3 L1313.3,302.7 L1313.8,304.1 L1314.4,305.5 L1315.0,307.0 L1315.6,308.4 L1316.3,309.8 L1317.0,311.0 L1318.0,311.9 L1319.5,312.8 L1320.9,313.4 L1322.2,313.3 L1323.4,312.3 L1324.4,310.9 L1325.0,309.6 L1325.4,308.2 L1325.7,306.6 L1326.1,305.1 L1326.5,303.7 L1327.2,302.3 L1328.3,300.9 L1329.0,300.6 L1329.5,301.3 L1329.9,302.6 L1330.3,304.4 L1330.6,306.3 L1330.8,308.2 L1331.0,309.7 L1331.1,311.2 L1331.2,312.7 L1331.4,314.2 L1331.5,315.7 L1331.6,317.2 L1331.7,318.7 L1331.7,320.2 L1331.8,321.7 L1331.9,323.2 L1332.0,324.7 L1332.0,326.2 L1332.1,327.7 L1332.2,329.2 L1332.2,330.7 L1332.3,332.2 L1332.4,333.7 L1332.4,335.2 L1332.5,336.7 L1332.6,338.2 L1332.6,339.7 L1332.7,341.2 L1332.8,342.7 L1332.8,344.2 L1332.9,345.7 L1332.9,347.2 L1333.0,348.7 L1333.0,350.2 L1333.1,351.7 L1333.2,353.2 L1333.2,354.7 L1333.3,356.2 L1333.3,357.7 L1333.4,359.2 L1333.4,360.7 L1333.5,362.2 L1333.6,363.7 L1333.6,365.2 L1333.7,366.7 L1333.8,368.2 L1333.8,369.7 L1333.9,371.2 L1334.0,372.7 L1334.0,374.2 L1334.1,375.7 L1334.2,377.2 L1334.3,378.7 L1334.3,380.2 L1334.4,381.7 L1334.5,383.2 L1334.6,384.7 L1334.6,386.2 L1334.7,387.7 L1334.8,389.2 L1334.8,390.7 L1334.9,392.2 L1335.0,393.7 L1335.0,395.2 L1335.1,396.7 L1335.1,398.2 L1335.2,399.7 L1335.3,401.1 L1335.3,402.6 L1335.4,404.1 L1335.4,405.6 L1335.5,407.1 L1335.5,408.6 L1335.5,410.1 L1335.6,411.6 L1335.6,413.1 L1335.7,414.6 L1335.7,416.1 L1335.8,417.6 L1335.8,419.1 L1335.9,420.6 L1335.9,422.1 L1335.9,423.6 L1336.0,425.1 L1336.0,426.6 L1336.1,428.1 L1336.1,429.6 L1336.2,431.1 L1336.2,432.6 L1336.3,434.1 L1336.3,435.6 L1336.4,437.1 L1336.4,438.6 L1336.5,440.1 L1336.5,441.6 L1336.6,443.1 L1336.6,444.6 L1336.6,446.1 L1336.7,447.6 L1336.7,449.1 L1336.8,450.6 L1336.8,452.1 L1336.9,453.6 L1336.9,455.1 L1337.0,456.6 L1337.0,458.1 L1337.1,459.6 L1337.1,461.1 L1337.2,462.6 L1337.2,464.1 L1337.3,465.6 L1337.3,467.1 L1337.4,468.6 L1337.4,470.1 L1337.4,471.6 L1337.5,473.1 L1337.5,474.6 L1337.6,476.1 L1337.6,477.6 L1337.7,479.1 L1337.7,480.6 L1337.8,482.1 L1337.8,483.6 L1337.9,485.1 L1337.9,486.6 L1337.9,488.1 L1338.0,489.6 L1338.0,491.1 L1338.1,492.6 L1338.1,494.1 L1338.2,495.6 L1338.2,497.1 L1338.3,498.6 L1338.3,500.1 L1338.3,501.6 L1338.4,503.1 L1338.4,504.6 L1338.5,506.1 L1338.5,507.6 L1338.6,509.1 L1338.6,510.6 L1338.6,512.1 L1338.7,513.6 L1338.7,515.1 L1338.8,516.6 L1338.8,518.1 L1338.9,519.6 L1338.9,521.1 L1338.9,522.6 L1339.0,524.1 L1339.0,525.6 L1339.1,527.1 L1339.1,528.6 L1339.1,530.1 L1339.2,531.6 L1339.2,533.1 L1339.3,534.6 L1339.3,536.1 L1339.3,537.6 L1339.4,539.1 L1339.4,540.6 L1339.5,542.1 L1339.5,543.6 L1339.5,545.1 L1339.6,546.6 L1339.6,548.1 L1339.7,549.6 L1339.7,551.1 L1339.7,552.6 L1339.8,554.1 L1339.8,555.6 L1339.9,557.1 L1339.9,558.6 L1340.0,560.1 L1340.0,561.6 L1340.0,563.1 L1340.1,564.6 L1340.1,566.1 L1340.2,567.6 L1340.2,569.1 L1340.2,570.6 L1340.3,572.1 L1340.3,573.6 L1340.4,575.1 L1340.4,576.6 L1340.4,578.1 L1340.5,579.6 L1340.5,581.1 L1340.6,582.6 L1340.6,584.1 L1340.7,585.6 L1340.7,587.1 L1340.7,588.6 L1340.8,590.1 L1340.8,591.6 L1340.9,593.1 L1340.9,594.6 L1340.9,596.1 L1341.0,597.6 L1341.0,599.1 L1341.1,600.6 L1341.1,602.1 L1341.2,603.6 L1341.2,605.1 L1341.2,606.6 L1341.3,608.1 L1341.3,609.6 L1341.4,611.1 L1341.4,612.6 L1341.5,614.1 L1341.5,615.6 L1341.5,617.1 L1341.6,618.6 L1341.6,620.1 L1341.7,621.6 L1341.7,623.1 L1341.7,624.6 L1341.8,626.1 L1341.8,627.6 L1341.9,629.1 L1341.9,630.6 L1342.0,632.1 L1342.0,633.6 L1342.1,635.1 L1342.1,636.5 L1342.1,638.0 L1342.2,639.5 L1342.2,641.0 L1342.3,642.5 L1342.3,644.0 L1342.4,645.5 L1342.4,647.0 L1342.5,648.5 L1342.5,650.0 L1342.6,651.5 L1342.6,653.0 L1342.7,654.5 L1342.7,656.0 L1342.7,657.5 L1342.8,659.0 L1342.8,660.5 L1342.9,662.0 L1342.9,663.5 L1343.0,665.0 L1343.0,666.5 L1343.1,668.0 L1343.1,669.5 L1343.2,671.0 L1343.2,672.5 L1343.3,674.0 L1343.3,675.5 L1343.4,677.0 L1343.5,678.5 L1343.5,680.0 L1343.6,681.5 L1343.6,683.0 L1343.7,684.5 L1343.8,686.0 L1343.8,687.5 L1343.9,689.0 L1344.0,690.5 L1344.0,692.0 L1344.1,693.5 L1344.2,695.0 L1344.2,696.5 L1344.3,698.0 L1344.4,699.5 L1344.5,701.0 L1344.5,702.5 L1344.6,704.0 L1344.7,705.5 L1344.8,707.0 L1344.8,708.5 L1344.9,710.0 L1345.0,711.5 L1345.1,713.0 L1345.1,714.5 L1345.2,716.0 L1345.3,717.5 L1345.4,719.0 L1345.4,720.5 L1345.5,722.0 L1345.6,723.5 L1345.7,725.0 L1345.7,726.5 L1345.8,728.0 L1345.9,729.5 L1346.0,731.0 L1346.1,732.5 L1346.2,734.0 L1346.2,735.5 L1346.3,737.0 L1346.4,738.5 L1346.5,740.0 L1346.6,741.4 L1346.7,742.9 L1346.9,744.4 L1347.0,745.9 L1347.1,747.4 L1347.2,748.9 L1347.3,750.4 L1347.5,751.9 L1347.6,753.4 L1347.7,754.9 L1347.9,756.4 L1348.0,757.9 L1348.1,759.4 L1348.3,760.9 L1348.4,762.4 L1348.5,763.9 L1348.7,765.4 L1348.8,766.9 L1348.9,768.4 L1349.1,769.9 L1349.2,771.3 L1349.3,772.8 L1349.5,774.3 L1349.6,775.8 L1349.8,777.3 L1349.9,778.8 L1350.1,780.3 L1350.3,781.8 L1350.5,783.3 L1350.7,784.7 L1351.0,786.2 L1351.3,787.7 L1351.6,789.2 L1351.9,790.7 L1352.2,792.1 L1352.6,793.6 L1353.0,795.0 L1353.4,796.5 L1353.8,797.9 L1354.3,799.4 L1354.8,800.8 L1355.3,802.3 L1355.9,803.7 L1356.5,805.0 L1357.2,806.2 L1358.1,807.4 L1359.1,808.6 L1360.2,809.6 L1361.3,810.6 L1362.5,811.5 L1363.7,812.4 L1365.0,813.3 L1366.3,814.1 L1367.7,814.8 L1369.0,815.3 L1370.4,815.6 L1371.9,815.9 L1373.3,816.2 L1374.8,816.5 L1376.3,816.8 L1377.8,817.0 L1379.4,817.1 L1380.9,817.2 L1382.4,817.3 L1383.9,817.3 L1385.4,817.3 L1386.9,817.3 L1388.4,817.3 L1389.9,817.3 L1391.4,817.3 L1392.9,817.3 L1394.4,817.3 L1395.9,817.3 L1397.4,817.3 L1398.9,817.3 L1400.0,817.3 L1400.0,816.6 L848.0,816.6 Z" fill="#b22222" fill-opacity="0.4"/>
<path d="M288.0,817.6 L300.0,815.5 L308.5,813.1 L311.7,809.7 L313.9,803.9 L316.6,792.2 L319.0,777.6 L322.6,748.4 L326.3,719.2 L329.3,690.0 L332.6,650.0 L336.8,600.0 L340.8,550.0 L344.0,512.0 L348.3,475.0 L352.0,451.7 L353.7,444.3 L355.1,435.1 L355.4,433.5 L357.1,426.9 L358.8,420.1 L360.1,412.6 L360.5,410.5 L362.2,400.7 L363.9,391.3 L363.9,389.8 L365.6,392.2 L366.4,393.8 L367.3,393.3 L369.0,393.1 L370.7,392.7 L371.4,391.3 L372.4,389.6 L374.1,386.3 L375.8,385.0 L376.4,385.0 L377.5,388.4 L379.2,388.7 L380.1,391.3 L380.9,387.6 L382.6,381.4 L383.4,376.3 L384.3,376.9 L386.0,383.2 L386.4,383.8 L387.7,384.5 L389.4,380.8 L390.1,381.3 L391.1,378.5 L392.8,374.6 L393.4,371.3 L394.5,379.2 L395.6,390.1 L396.2,387.4 L397.9,379.7 L398.1,377.5 L399.6,388.3 L400.7,395.1 L401.3,393.0 L403.0,386.9 L403.2,387.5 L404.7,394.0 L406.4,400.6 L407.7,406.3 L408.1,405.4 L409.8,401.6 L410.2,401.3 L411.5,405.2 L413.2,408.4 L413.9,408.8 L414.9,402.3 L415.2,401.3 L416.6,414.1 L417.2,418.8 L418.3,412.4 L420.0,404.5 L420.2,403.8 L421.7,394.9 L422.7,390.1 L423.4,392.1 L425.1,394.4 L426.4,397.6 L426.8,398.5 L428.5,404.5 L430.2,408.8 L430.2,408.5 L431.9,413.1 L433.6,413.4 L433.9,415.1 L435.3,419.6 L437.0,423.0 L437.7,425.1 L438.7,428.2 L440.4,434.6 L441.5,437.6 L442.1,437.0 L443.8,435.0 L445.5,431.8 L447.2,430.4 L447.7,431.4 L448.9,430.6 L450.6,427.8 L452.3,426.3 L452.7,425.1 L454.0,428.4 L455.7,429.7 L456.5,430.1 L457.4,428.2 L459.1,428.5 L460.2,428.8 L460.8,430.5 L462.5,433.2 L464.0,437.6 L464.2,440.1 L465.9,445.9 L466.5,446.4 L467.6,445.8 L469.3,441.6 L470.2,440.1 L471.0,443.1 L472.7,444.5 L474.0,448.9 L474.4,448.3 L476.1,449.4 L477.7,450.1 L477.8,451.1 L479.5,453.0 L481.2,454.6 L481.5,456.4 L482.9,457.2 L484.6,458.8 L486.3,460.5 L486.5,461.4 L488.0,458.1 L489.7,456.6 L491.0,455.1 L491.4,456.7 L493.1,465.7 L494.0,468.9 L494.8,470.7 L496.5,471.5 L497.8,472.7 L498.2,472.5 L499.9,473.7 L501.5,472.7 L501.6,474.2 L503.3,476.8 L505.0,480.7 L505.3,480.2 L506.7,482.7 L508.4,480.6 L509.0,482.7 L510.1,484.4 L511.8,482.8 L512.8,483.9 L513.5,485.5 L515.2,490.6 L516.5,492.7 L516.9,493.8 L518.6,493.5 L520.3,497.0 L522.0,496.6 L522.8,498.9 L523.7,499.0 L525.4,501.6 L527.1,501.3 L528.8,502.9 L529.1,502.7 L530.5,505.9 L532.2,509.1 L532.8,508.9 L533.9,511.0 L535.6,510.0 L537.3,513.1 L537.8,514.0 L539.0,515.6 L540.7,516.7 L542.4,521.0 L542.8,521.5 L544.1,521.5 L545.8,521.9 L547.5,521.9 L547.8,520.2 L549.2,522.1 L550.9,526.4 L551.6,529.0 L552.6,527.9 L554.3,523.1 L554.6,524.0 L556.0,527.3 L557.7,533.8 L557.8,534.0 L559.4,535.1 L561.1,539.9 L562.8,542.7 L562.9,541.5 L564.5,541.9 L566.2,545.8 L567.9,547.7 L567.9,548.9 L569.6,552.1 L571.3,552.1 L572.9,555.3 L573.0,554.2 L574.7,558.9 L576.4,561.1 L577.9,561.5 L578.1,560.7 L579.8,563.7 L581.5,566.8 L582.9,567.8 L583.2,569.2 L584.9,567.9 L586.6,570.8 L588.3,572.5 L590.0,572.7 L590.4,572.8 L591.7,572.9 L593.4,574.1 L595.1,576.7 L596.6,579.0 L596.8,580.4 L598.5,580.0 L600.2,582.2 L601.9,585.9 L602.9,587.8 L603.6,588.6 L605.0,595.0 L605.3,594.2 L607.0,596.6 L608.7,601.3 L610.4,604.7 L612.1,606.6 L612.5,607.5 L613.8,607.3 L615.5,609.4 L617.2,611.8 L618.9,614.4 L620.0,613.8 L620.6,616.2 L622.3,615.5 L624.0,616.7 L625.7,621.6 L627.4,623.9 L627.5,622.5 L629.1,624.5 L630.8,627.9 L632.5,630.5 L634.2,631.8 L635.0,632.6 L635.9,634.6 L637.6,633.1 L639.3,635.5 L641.0,637.0 L642.7,637.9 L644.4,642.2 L645.1,641.3 L646.1,640.7 L647.8,644.7 L649.5,644.2 L651.2,647.0 L652.9,648.9 L654.6,649.7 L655.1,651.3 L656.3,652.9 L658.0,655.1 L659.7,656.5 L661.4,660.1 L663.1,660.1 L664.8,662.4 L665.1,663.8 L666.5,665.3 L668.2,667.7 L669.9,669.4 L671.6,674.3 L673.3,676.3 L675.0,676.1 L675.1,677.6 L676.7,679.8 L678.4,682.2 L680.1,685.8 L681.8,688.0 L682.6,690.1 L683.5,691.4 L685.2,695.3 L686.9,695.7 L688.6,699.1 L688.9,698.9 L691.4,700.2 L695.0,703.9 L696.5,711.9 L698.2,733.8 L700.1,755.7 L702.3,777.6 L704.5,795.1 L706.7,805.3 L709.6,811.2 L715.0,815.7 L724.0,816.8 L733.7,817.4" stroke="#191970" stroke-width="6.25" fill="none" stroke-linejoin="round" stroke-linecap="square"/>
<path d="M561.0,817.3 L562.5,817.3 L564.0,817.3 L565.5,817.2 L567.0,817.2 L568.5,817.2 L570.0,817.1 L571.5,817.1 L573.0,817.1 L574.5,817.0 L576.0,817.0 L577.5,816.9 L579.0,816.8 L580.5,816.8 L582.0,816.7 L583.5,816.7 L585.0,816.6 L586.5,816.5 L588.0,816.5 L589.5,816.4 L591.0,816.4 L592.5,816.3 L594.0,816.2 L595.5,816.2 L597.0,816.1 L598.5,815.9 L600.0,815.8 L601.5,815.6 L602.9,815.2 L604.3,814.7 L605.6,813.9 L606.9,813.0 L607.9,812.0 L608.8,810.8 L609.7,809.6 L610.5,808.2 L611.1,806.9 L611.7,805.5 L612.3,804.1 L612.8,802.7 L613.2,801.2 L613.5,799.8 L613.8,798.3 L614.1,796.9 L614.3,795.4 L614.4,793.9 L614.6,792.4 L614.8,790.9 L615.0,789.4 L615.2,787.9 L615.4,786.4 L615.6,784.9 L615.8,783.4 L615.9,782.0 L616.1,780.5 L616.3,779.0 L616.5,777.5 L616.7,776.0 L616.9,774.5 L617.1,773.0 L617.3,771.5 L617.5,770.1 L617.7,768.6 L617.9,767.1 L618.0,765.6 L618.2,764.1 L618.3,762.6 L618.5,761.1 L618.6,759.6 L618.7,758.1 L618.8,756.6 L618.9,755.1 L619.1,753.6 L619.2,752.1 L619.3,750.6 L619.4,749.1 L619.4,747.6 L619.5,746.1 L619.6,744.6 L619.7,743.1 L619.8,741.6 L619.8,740.2 L619.9,738.7 L620.0,737.2 L620.0,735.7 L620.1,734.2 L620.1,732.7 L620.2,731.2 L620.3,729.7 L620.3,728.2 L620.4,726.7 L620.4,725.2 L620.5,723.7 L620.6,722.2 L620.6,720.7 L620.7,719.2 L620.8,717.7 L620.8,716.2 L620.9,714.7 L621.0,713.2 L621.0,711.7 L621.1,710.2 L621.2,708.7 L621.2,707.2 L621.3,705.7 L621.4,704.2 L621.4,702.7 L621.5,701.2 L621.6,699.7 L621.6,698.2 L621.7,696.7 L621.8,695.2 L621.8,693.7 L621.9,692.2 L622.0,690.7 L622.0,689.2 L622.1,687.7 L622.2,686.2 L622.2,684.7 L622.3,683.2 L622.4,681.7 L622.4,680.2 L622.5,678.7 L622.5,677.2 L622.6,675.7 L622.7,674.2 L622.7,672.7 L622.8,671.2 L622.9,669.7 L622.9,668.2 L623.0,666.7 L623.0,665.2 L623.1,663.7 L623.2,662.2 L623.2,660.7 L623.3,659.2 L623.4,657.7 L623.4,656.2 L623.5,654.7 L623.5,653.2 L623.6,651.7 L623.7,650.2 L623.7,648.7 L623.8,647.2 L623.9,645.7 L623.9,644.2 L624.0,642.7 L624.0,641.2 L624.1,639.7 L624.2,638.2 L624.2,636.7 L624.3,635.2 L624.4,633.7 L624.4,632.2 L624.5,630.7 L624.6,629.2 L624.6,627.8 L624.7,626.3 L624.8,624.8 L624.8,623.3 L624.9,621.8 L625.0,620.3 L625.0,618.8 L625.1,617.3 L625.1,615.8 L625.2,614.3 L625.3,612.8 L625.3,611.3 L625.4,609.8 L625.5,608.3 L625.5,606.8 L625.6,605.3 L625.7,603.8 L625.7,602.3 L625.8,600.8 L625.8,599.3 L625.9,597.8 L626.0,596.3 L626.0,594.8 L626.1,593.3 L626.1,591.8 L626.2,590.3 L626.2,588.8 L626.3,587.3 L626.4,585.8 L626.4,584.3 L626.5,582.8 L626.5,581.3 L626.6,579.8 L626.6,578.3 L626.7,576.8 L626.7,575.3 L626.8,573.8 L626.8,572.3 L626.8,570.8 L626.9,569.3 L626.9,567.8 L627.0,566.3 L627.0,564.8 L627.1,563.3 L627.1,561.8 L627.2,560.3 L627.2,558.8 L627.3,557.3 L627.3,555.8 L627.4,554.3 L627.4,552.8 L627.5,551.3 L627.6,549.8 L627.6,548.3 L627.7,546.8 L627.7,545.3 L627.8,543.8 L627.8,542.3 L627.9,540.8 L627.9,539.3 L628.0,537.8 L628.1,536.3 L628.1,534.8 L628.2,533.3 L628.2,531.8 L628.3,530.3 L628.3,528.8 L628.4,527.3 L628.5,525.8 L628.5,524.3 L628.6,522.8 L628.6,521.3 L628.7,519.8 L628.8,518.3 L628.8,516.8 L628.9,515.3 L629.0,513.8 L629.0,512.3 L629.1,510.8 L629.1,509.3 L629.2,507.8 L629.3,506.3 L629.3,504.8 L629.4,503.3 L629.5,501.8 L629.5,500.3 L629.6,498.8 L629.7,497.3 L629.7,495.8 L629.8,494.4 L629.9,492.9 L629.9,491.4 L630.0,489.9 L630.1,488.4 L630.1,486.9 L630.2,485.4 L630.3,483.9 L630.3,482.4 L630.4,480.9 L630.5,479.4 L630.5,477.9 L630.6,476.4 L630.7,474.9 L630.8,473.4 L630.8,471.9 L630.9,470.4 L631.0,468.9 L631.0,467.4 L631.1,465.9 L631.2,464.4 L631.3,462.9 L631.4,461.4 L631.4,459.9 L631.5,458.4 L631.6,456.9 L631.6,455.4 L631.7,453.9 L631.8,452.4 L631.9,450.9 L631.9,449.4 L632.0,447.9 L632.1,446.4 L632.2,444.9 L632.3,443.4 L632.3,441.9 L632.4,440.4 L632.5,438.9 L632.6,437.4 L632.8,435.9 L632.9,434.4 L633.0,432.9 L633.2,431.4 L633.3,429.9 L633.5,428.4 L633.7,426.9 L633.9,425.4 L634.1,423.9 L634.4,422.4 L634.7,420.9 L635.0,419.5 L635.4,418.1 L635.8,416.7 L636.5,415.0 L637.2,413.3 L638.1,411.8 L639.0,410.6 L639.9,410.1 L640.7,410.3 L641.7,411.2 L642.6,412.6 L643.6,414.1 L644.5,415.6 L645.5,416.9 L646.5,418.4 L647.4,419.9 L648.4,421.3 L649.3,422.3 L650.1,422.6 L650.9,422.2 L651.6,421.2 L652.2,419.8 L652.8,418.2 L653.5,416.4 L654.1,414.6 L654.8,413.1 L655.5,411.7 L656.3,410.1 L657.1,408.4 L657.9,406.9 L658.7,405.8 L659.7,405.1 L660.8,405.2 L662.1,405.8 L663.6,406.8 L665.1,407.8 L666.5,408.5 L667.6,408.8 L668.6,408.5 L669.4,407.7 L670.2,406.4 L671.0,404.9 L671.7,403.3 L672.4,401.6 L673.2,400.0 L674.0,398.6 L674.7,397.2 L675.5,395.5 L676.2,393.8 L677.0,392.2 L677.7,390.8 L678.6,389.6 L679.4,389.0 L680.4,388.8 L681.4,389.3 L682.6,390.3 L683.8,391.5 L685.0,392.8 L686.3,393.8 L687.6,394.6 L689.0,395.5 L690.4,396.1 L691.6,396.3 L692.7,395.7 L693.7,394.5 L694.7,393.1 L695.8,391.8 L697.0,390.9 L698.3,390.0 L699.8,389.2 L701.1,388.8 L702.2,389.0 L703.3,389.9 L704.4,391.2 L705.4,392.6 L706.4,393.8 L707.5,395.1 L708.6,396.5 L709.7,397.8 L710.7,398.6 L711.7,398.8 L712.6,398.2 L713.4,397.0 L714.3,395.5 L715.1,393.9 L715.8,392.3 L716.6,390.9 L717.4,389.6 L718.0,388.2 L718.7,386.8 L719.4,385.4 L720.0,384.0 L720.8,382.7 L721.5,381.4 L722.4,380.3 L723.4,379.4 L724.6,378.5 L725.9,377.7 L727.3,377.0 L728.6,376.2 L729.8,375.3 L730.9,374.3 L731.8,373.2 L732.7,372.0 L733.5,370.7 L734.4,369.4 L735.2,368.1 L736.0,366.9 L736.9,365.6 L737.7,364.1 L738.6,362.5 L739.5,360.9 L740.3,359.3 L741.2,357.9 L742.0,356.7 L742.9,355.9 L743.7,355.5 L744.6,355.7 L745.4,356.4 L746.2,357.6 L747.0,359.0 L747.8,360.7 L748.7,362.3 L749.5,363.9 L750.3,365.2 L751.2,366.7 L752.0,368.3 L752.8,369.9 L753.7,371.4 L754.5,372.6 L755.5,373.5 L756.4,373.8 L757.6,373.4 L758.8,372.5 L760.0,371.3 L761.3,370.2 L762.4,369.1 L763.5,367.8 L764.6,366.4 L765.7,365.3 L766.7,364.6 L767.7,364.6 L768.7,365.2 L769.7,366.2 L770.7,367.6 L771.6,369.0 L772.6,370.6 L773.5,372.0 L774.5,373.2 L775.4,374.6 L776.4,376.1 L777.3,377.6 L778.3,378.9 L779.2,379.7 L780.2,380.0 L781.3,379.7 L782.3,378.8 L783.4,377.6 L784.5,376.3 L785.6,374.9 L786.6,373.7 L787.6,372.5 L788.5,371.2 L789.4,370.0 L790.3,368.8 L791.3,367.6 L792.3,366.6 L793.5,365.8 L794.8,365.1 L796.3,364.5 L797.8,363.9 L799.1,363.3 L800.2,362.5 L801.2,361.6 L802.1,360.4 L802.9,359.2 L803.6,357.8 L804.3,356.4 L805.0,354.9 L805.6,353.5 L806.3,352.1 L806.9,350.8 L807.5,349.4 L808.0,348.0 L808.5,346.5 L809.0,345.1 L809.5,343.7 L810.0,342.2 L810.5,340.8 L811.1,339.4 L811.7,338.1 L812.4,336.8 L813.1,335.5 L814.0,333.9 L814.9,332.4 L815.8,331.0 L816.8,329.9 L817.9,329.3 L819.0,329.4 L820.2,330.1 L821.5,331.2 L822.8,332.3 L824.0,333.3 L825.2,334.6 L826.3,335.7 L827.5,336.4 L828.6,336.5 L829.8,335.9 L830.9,334.8 L832.0,333.5 L833.2,332.3 L834.4,331.4 L835.7,330.6 L837.2,329.9 L838.6,329.4 L840.0,329.3 L841.3,329.7 L842.6,330.5 L843.8,331.4 L845.1,332.4 L846.5,333.2 L847.8,333.8 L849.3,334.4 L850.7,334.9 L852.2,335.3 L853.6,335.5 L855.1,335.4 L856.5,334.9 L857.9,334.2 L859.3,333.6 L860.8,333.4 L862.3,333.4 L863.8,333.4 L865.3,333.4 L866.8,333.4 L868.2,333.7 L869.6,334.3 L871.0,335.0 L872.5,335.5 L873.9,335.5 L875.5,335.3 L877.0,334.9 L878.3,334.4 L879.5,333.8 L880.6,332.7 L881.6,331.5 L882.6,330.3 L883.6,329.1 L884.5,327.9 L885.4,326.5 L886.2,325.1 L887.0,323.8 L887.9,322.6 L888.8,321.5 L889.9,320.8 L891.2,320.1 L892.6,319.5 L894.2,319.1 L895.7,318.8 L897.1,318.9 L898.6,319.0 L900.1,319.2 L901.6,319.4 L903.1,319.7 L904.6,319.9 L906.1,320.2 L907.6,320.5 L909.1,320.8 L910.5,321.2 L911.9,321.7 L913.2,322.2 L914.5,323.0 L915.7,323.9 L916.8,325.0 L917.9,326.1 L918.9,327.2 L919.8,328.4 L920.7,329.6 L921.4,331.0 L922.2,332.3 L923.0,333.7 L923.8,334.9 L924.7,336.1 L925.7,337.1 L926.8,338.1 L928.1,339.2 L929.4,340.2 L930.7,341.0 L932.1,341.6 L933.4,341.8 L934.8,341.6 L936.2,341.0 L937.6,340.2 L938.9,339.3 L940.1,338.4 L941.2,337.5 L942.3,336.4 L943.3,335.3 L944.3,334.2 L945.4,333.1 L946.4,332.0 L947.5,330.9 L948.5,329.7 L949.5,328.6 L950.5,327.5 L951.6,326.4 L952.7,325.4 L953.8,324.5 L955.0,323.6 L956.3,322.9 L957.6,322.2 L959.0,321.6 L960.4,321.0 L961.8,320.3 L963.1,319.7 L964.4,319.0 L965.8,318.3 L967.1,317.7 L968.5,317.0 L969.8,316.3 L971.2,315.7 L972.5,314.9 L973.9,314.0 L975.2,313.2 L976.6,312.5 L977.9,312.2 L979.2,312.3 L980.5,313.0 L981.8,314.0 L983.0,315.2 L984.0,316.2 L984.9,317.4 L985.7,318.7 L986.5,320.0 L987.4,321.3 L988.3,322.5 L989.3,323.5 L990.5,324.5 L991.9,325.5 L993.3,326.3 L994.6,326.7 L995.8,326.6 L996.9,325.9 L998.1,324.7 L999.1,323.3 L1000.2,322.1 L1001.1,320.9 L1001.9,319.7 L1002.7,318.4 L1003.5,317.1 L1004.3,315.8 L1005.1,314.5 L1005.9,313.3 L1006.9,312.1 L1007.8,310.9 L1008.8,309.7 L1009.9,308.5 L1011.0,307.5 L1012.1,306.7 L1013.4,306.1 L1014.8,305.5 L1016.2,305.1 L1017.8,304.7 L1019.3,304.7 L1020.9,304.7 L1022.5,304.7 L1023.5,304.7 L1024.2,305.5 L1024.8,306.8 L1025.3,308.6 L1025.7,310.4 L1026.2,312.1 L1026.6,313.6 L1027.1,315.0 L1027.5,316.4 L1027.9,317.9 L1028.3,319.4 L1028.6,320.8 L1029.0,322.3 L1029.4,323.7 L1029.8,325.2 L1030.3,326.6 L1030.8,328.1 L1031.4,329.8 L1032.0,331.6 L1032.6,333.3 L1033.2,334.7 L1033.8,335.4 L1034.3,335.4 L1034.8,334.5 L1035.4,333.1 L1035.8,331.3 L1036.3,329.4 L1036.6,327.7 L1037.0,326.2 L1037.2,324.7 L1037.4,323.2 L1037.6,321.7 L1037.8,320.2 L1038.0,318.7 L1038.2,317.2 L1038.3,315.7 L1038.6,314.3 L1038.8,312.8 L1039.1,311.3 L1039.4,309.8 L1040.0,308.0 L1040.5,306.4 L1041.0,305.9 L1041.4,306.4 L1041.7,307.5 L1042.1,309.1 L1042.4,310.9 L1042.6,312.8 L1042.8,314.8 L1043.0,316.5 L1043.1,318.0 L1043.2,319.4 L1043.3,320.9 L1043.4,322.4 L1043.5,323.9 L1043.5,325.4 L1043.6,326.9 L1043.7,328.4 L1043.7,329.9 L1043.8,331.4 L1043.8,332.9 L1043.9,334.4 L1043.9,335.9 L1044.0,337.4 L1044.0,338.9 L1044.1,340.4 L1044.1,341.9 L1044.1,343.4 L1044.2,344.9 L1044.2,346.4 L1044.3,347.9 L1044.3,349.4 L1044.4,350.9 L1044.4,352.4 L1044.5,353.9 L1044.5,355.4 L1044.6,356.9 L1044.6,358.4 L1044.7,359.9 L1044.7,361.4 L1044.8,362.9 L1044.8,364.4 L1044.9,365.9 L1044.9,367.4 L1045.0,368.9 L1045.0,370.4 L1045.1,371.9 L1045.1,373.4 L1045.1,374.9 L1045.2,376.4 L1045.2,377.9 L1045.3,379.4 L1045.3,380.9 L1045.4,382.4 L1045.4,383.9 L1045.5,385.4 L1045.5,386.9 L1045.6,388.4 L1045.6,389.9 L1045.6,391.4 L1045.7,392.9 L1045.7,394.4 L1045.8,395.9 L1045.8,397.4 L1045.9,398.9 L1045.9,400.4 L1046.0,401.9 L1046.0,403.4 L1046.1,404.9 L1046.1,406.4 L1046.2,407.9 L1046.2,409.4 L1046.3,410.9 L1046.4,412.4 L1046.4,413.9 L1046.5,415.4 L1046.5,416.9 L1046.6,418.4 L1046.7,419.9 L1046.7,421.4 L1046.8,422.9 L1046.9,424.4 L1046.9,425.9 L1047.0,427.4 L1047.0,428.9 L1047.1,430.4 L1047.2,431.9 L1047.2,433.4 L1047.3,434.9 L1047.3,436.4 L1047.4,437.9 L1047.5,439.4 L1047.5,440.9 L1047.6,442.4 L1047.6,443.9 L1047.7,445.4 L1047.7,446.9 L1047.8,448.4 L1047.8,449.9 L1047.8,451.4 L1047.9,452.9 L1047.9,454.4 L1048.0,455.9 L1048.0,457.4 L1048.0,458.9 L1048.1,460.4 L1048.1,461.9 L1048.2,463.4 L1048.2,464.9 L1048.2,466.4 L1048.3,467.9 L1048.3,469.4 L1048.3,470.9 L1048.4,472.4 L1048.4,473.9 L1048.4,475.4 L1048.5,476.9 L1048.5,478.4 L1048.5,479.9 L1048.6,481.4 L1048.6,482.9 L1048.6,484.4 L1048.7,485.9 L1048.7,487.4 L1048.7,488.9 L1048.7,490.4 L1048.8,491.9 L1048.8,493.4 L1048.8,494.9 L1048.9,496.4 L1048.9,497.9 L1048.9,499.4 L1048.9,500.9 L1049.0,502.4 L1049.0,503.9 L1049.0,505.4 L1049.1,506.9 L1049.1,508.4 L1049.1,509.9 L1049.1,511.4 L1049.2,512.9 L1049.2,514.4 L1049.2,515.9 L1049.3,517.4 L1049.3,518.9 L1049.3,520.4 L1049.3,521.9 L1049.4,523.4 L1049.4,524.9 L1049.4,526.4 L1049.4,527.9 L1049.5,529.4 L1049.5,530.9 L1049.5,532.4 L1049.5,533.9 L1049.6,535.4 L1049.6,536.9 L1049.6,538.4 L1049.6,539.9 L1049.7,541.4 L1049.7,542.9 L1049.7,544.4 L1049.7,545.9 L1049.8,547.4 L1049.8,548.9 L1049.8,550.4 L1049.8,551.9 L1049.9,553.4 L1049.9,554.9 L1049.9,556.4 L1049.9,557.9 L1050.0,559.4 L1050.0,560.9 L1050.0,562.4 L1050.0,563.9 L1050.0,565.4 L1050.1,566.9 L1050.1,568.4 L1050.1,569.9 L1050.1,571.4 L1050.2,572.9 L1050.2,574.4 L1050.2,575.9 L1050.2,577.4 L1050.3,578.9 L1050.3,580.4 L1050.3,581.9 L1050.3,583.4 L1050.4,584.9 L1050.4,586.4 L1050.4,587.9 L1050.4,589.4 L1050.4,590.9 L1050.5,592.4 L1050.5,593.9 L1050.5,595.4 L1050.5,596.9 L1050.6,598.4 L1050.6,599.9 L1050.6,601.4 L1050.6,602.9 L1050.7,604.4 L1050.7,605.9 L1050.7,607.4 L1050.8,608.9 L1050.8,610.4 L1050.8,611.9 L1050.8,613.4 L1050.9,614.9 L1050.9,616.4 L1050.9,617.9 L1050.9,619.4 L1051.0,620.9 L1051.0,622.3 L1051.0,623.8 L1051.0,625.3 L1051.1,626.8 L1051.1,628.3 L1051.1,629.8 L1051.1,631.3 L1051.2,632.8 L1051.2,634.3 L1051.2,635.8 L1051.3,637.3 L1051.3,638.8 L1051.3,640.3 L1051.3,641.8 L1051.4,643.3 L1051.4,644.8 L1051.4,646.3 L1051.5,647.8 L1051.5,649.3 L1051.5,650.8 L1051.5,652.3 L1051.6,653.8 L1051.6,655.3 L1051.6,656.8 L1051.7,658.3 L1051.7,659.8 L1051.7,661.3 L1051.8,662.8 L1051.8,664.3 L1051.8,665.8 L1051.8,667.3 L1051.9,668.8 L1051.9,670.3 L1051.9,671.8 L1052.0,673.3 L1052.0,674.8 L1052.0,676.3 L1052.1,677.8 L1052.1,679.3 L1052.1,680.8 L1052.2,682.3 L1052.2,683.8 L1052.3,685.3 L1052.3,686.8 L1052.4,688.3 L1052.4,689.8 L1052.5,691.3 L1052.5,692.8 L1052.6,694.3 L1052.6,695.8 L1052.7,697.3 L1052.8,698.8 L1052.8,700.3 L1052.9,701.8 L1053.0,703.3 L1053.1,704.8 L1053.1,706.3 L1053.2,707.8 L1053.3,709.3 L1053.4,710.8 L1053.5,712.3 L1053.6,713.8 L1053.6,715.3 L1053.7,716.8 L1053.8,718.3 L1053.9,719.8 L1054.0,721.3 L1054.1,722.8 L1054.2,724.3 L1054.2,725.8 L1054.3,727.3 L1054.4,728.8 L1054.5,730.3 L1054.6,731.8 L1054.7,733.3 L1054.8,734.8 L1054.9,736.3 L1055.0,737.8 L1055.1,739.3 L1055.2,740.8 L1055.3,742.3 L1055.4,743.8 L1055.5,745.2 L1055.6,746.7 L1055.8,748.2 L1055.9,749.7 L1056.0,751.2 L1056.2,752.7 L1056.3,754.2 L1056.5,755.7 L1056.6,757.2 L1056.8,758.7 L1057.0,760.2 L1057.2,761.7 L1057.4,763.2 L1057.5,764.6 L1057.7,766.1 L1057.9,767.6 L1058.1,769.1 L1058.3,770.6 L1058.5,772.1 L1058.7,773.6 L1058.8,775.1 L1059.0,776.6 L1059.2,778.0 L1059.4,779.5 L1059.6,781.0 L1059.8,782.5 L1060.0,784.0 L1060.2,785.5 L1060.5,787.0 L1060.7,788.4 L1061.0,789.9 L1061.3,791.4 L1061.6,792.9 L1061.9,794.3 L1062.3,795.8 L1062.6,797.3 L1063.1,798.7 L1063.5,800.1 L1064.0,801.5 L1064.6,802.9 L1065.2,804.3 L1065.9,805.7 L1066.7,807.0 L1067.6,808.2 L1068.5,809.3 L1069.5,810.3 L1070.7,811.3 L1071.9,812.2 L1073.2,813.0 L1074.5,813.7 L1075.9,814.4 L1077.3,815.1 L1078.7,815.7 L1080.1,816.1 L1081.5,816.4 L1083.0,816.6 L1084.5,816.8 L1085.9,817.0 L1087.4,817.2 L1089.0,817.3 L1090.5,817.3 L1090.8,817.3" stroke="#ff4500" stroke-width="6.25" fill="none" stroke-linejoin="round" stroke-linecap="square"/>
<path d="M848.0,818.2 L849.5,818.0 L851.0,817.8 L852.5,817.6 L854.0,817.4 L855.4,817.3 L856.9,817.1 L858.4,816.9 L859.9,816.7 L861.4,816.6 L862.9,816.4 L864.4,816.3 L865.9,816.1 L867.4,816.0 L868.9,815.9 L870.4,815.7 L871.9,815.5 L873.3,815.3 L874.8,815.0 L876.3,814.6 L877.7,814.1 L879.0,813.5 L880.3,812.7 L881.5,811.7 L882.6,810.7 L883.6,809.5 L884.5,808.3 L885.2,807.1 L885.8,805.7 L886.3,804.2 L886.8,802.8 L887.3,801.4 L887.9,800.0 L888.4,798.6 L888.8,797.2 L889.0,795.7 L889.2,794.2 L889.4,792.7 L889.5,791.2 L889.6,789.7 L889.8,788.2 L889.9,786.7 L890.2,785.2 L890.5,783.8 L890.8,782.3 L891.2,780.9 L891.6,779.4 L892.0,777.9 L892.4,776.5 L892.8,775.0 L893.1,773.6 L893.4,772.1 L893.7,770.6 L893.9,769.2 L894.1,767.7 L894.3,766.2 L894.5,764.7 L894.7,763.2 L894.8,761.7 L895.0,760.3 L895.1,758.8 L895.3,757.3 L895.4,755.8 L895.6,754.3 L895.7,752.8 L895.8,751.3 L895.9,749.8 L896.0,748.3 L896.1,746.8 L896.3,745.3 L896.4,743.8 L896.5,742.3 L896.6,740.8 L896.6,739.3 L896.7,737.8 L896.8,736.3 L896.9,734.8 L897.0,733.3 L897.1,731.8 L897.1,730.3 L897.2,728.8 L897.3,727.3 L897.4,725.8 L897.4,724.3 L897.5,722.8 L897.6,721.3 L897.6,719.8 L897.7,718.3 L897.8,716.8 L897.8,715.3 L897.9,713.8 L897.9,712.3 L898.0,710.8 L898.0,709.3 L898.1,707.8 L898.2,706.3 L898.2,704.8 L898.3,703.3 L898.3,701.8 L898.4,700.3 L898.4,698.8 L898.5,697.3 L898.6,695.8 L898.6,694.3 L898.7,692.8 L898.7,691.3 L898.8,689.8 L898.9,688.3 L898.9,686.8 L899.0,685.3 L899.1,683.8 L899.1,682.3 L899.2,680.8 L899.2,679.3 L899.3,677.8 L899.3,676.3 L899.4,674.8 L899.5,673.3 L899.5,671.9 L899.6,670.4 L899.6,668.9 L899.7,667.4 L899.8,665.9 L899.8,664.4 L899.9,662.9 L899.9,661.4 L900.0,659.9 L900.1,658.4 L900.1,656.9 L900.2,655.4 L900.3,653.9 L900.3,652.4 L900.4,650.9 L900.4,649.4 L900.5,647.9 L900.6,646.4 L900.6,644.9 L900.7,643.4 L900.8,641.9 L900.8,640.4 L900.9,638.9 L901.0,637.4 L901.0,635.9 L901.1,634.4 L901.2,632.9 L901.2,631.4 L901.3,629.9 L901.4,628.4 L901.4,626.9 L901.5,625.4 L901.5,623.9 L901.6,622.4 L901.7,620.9 L901.7,619.4 L901.8,617.9 L901.9,616.4 L901.9,614.9 L902.0,613.4 L902.1,611.9 L902.1,610.4 L902.2,608.9 L902.3,607.4 L902.3,605.9 L902.4,604.4 L902.5,602.9 L902.5,601.4 L902.6,599.9 L902.6,598.4 L902.7,596.9 L902.8,595.4 L902.8,593.9 L902.9,592.4 L903.0,590.9 L903.0,589.4 L903.1,587.9 L903.1,586.4 L903.2,584.9 L903.3,583.4 L903.3,581.9 L903.4,580.4 L903.4,578.9 L903.5,577.4 L903.6,575.9 L903.6,574.4 L903.7,572.9 L903.7,571.4 L903.8,569.9 L903.9,568.4 L903.9,566.9 L904.0,565.4 L904.0,563.9 L904.1,562.4 L904.2,560.9 L904.2,559.4 L904.3,557.9 L904.3,556.5 L904.4,555.0 L904.5,553.5 L904.5,552.0 L904.6,550.5 L904.6,549.0 L904.7,547.5 L904.8,546.0 L904.8,544.5 L904.9,543.0 L905.0,541.5 L905.0,540.0 L905.1,538.5 L905.1,537.0 L905.2,535.5 L905.3,534.0 L905.3,532.5 L905.4,531.0 L905.5,529.5 L905.5,528.0 L905.6,526.5 L905.7,525.0 L905.7,523.5 L905.8,522.0 L905.9,520.5 L905.9,519.0 L906.0,517.5 L906.0,516.0 L906.1,514.5 L906.2,513.0 L906.2,511.5 L906.3,510.0 L906.4,508.5 L906.4,507.0 L906.5,505.5 L906.5,504.0 L906.6,502.5 L906.7,501.0 L906.7,499.5 L906.8,498.0 L906.8,496.5 L906.9,495.0 L906.9,493.5 L907.0,492.0 L907.1,490.5 L907.1,489.0 L907.2,487.5 L907.2,486.0 L907.3,484.5 L907.3,483.0 L907.4,481.5 L907.4,480.0 L907.5,478.5 L907.5,477.0 L907.6,475.5 L907.6,474.0 L907.7,472.5 L907.7,471.0 L907.8,469.5 L907.8,468.0 L907.9,466.5 L908.0,465.0 L908.0,463.5 L908.1,462.0 L908.1,460.5 L908.2,459.0 L908.2,457.5 L908.3,456.0 L908.3,454.5 L908.4,453.0 L908.4,451.5 L908.5,450.0 L908.6,448.5 L908.6,447.0 L908.7,445.5 L908.7,444.0 L908.8,442.5 L908.8,441.0 L908.9,439.5 L908.9,438.0 L909.0,436.5 L909.1,435.0 L909.1,433.5 L909.2,432.0 L909.2,430.5 L909.3,429.0 L909.3,427.5 L909.4,426.0 L909.5,424.6 L909.5,423.1 L909.6,421.6 L909.7,420.1 L909.7,418.6 L909.8,417.1 L909.9,415.6 L909.9,414.1 L910.0,412.6 L910.1,411.1 L910.2,409.6 L910.2,408.1 L910.3,406.6 L910.4,405.1 L910.5,403.6 L910.6,402.1 L910.7,400.6 L910.8,399.1 L910.8,397.6 L910.9,396.1 L911.0,394.6 L911.1,393.1 L911.2,391.6 L911.3,390.1 L911.4,388.6 L911.5,387.1 L911.6,385.6 L911.7,384.1 L911.8,382.6 L911.9,381.1 L912.0,379.6 L912.1,378.1 L912.2,376.6 L912.3,375.1 L912.4,373.6 L912.5,372.1 L912.7,370.6 L912.8,369.1 L912.9,367.7 L913.0,366.2 L913.1,364.7 L913.3,363.2 L913.4,361.7 L913.5,360.2 L913.7,358.7 L913.8,357.2 L914.0,355.7 L914.1,354.2 L914.3,352.7 L914.5,351.2 L914.6,349.7 L914.8,348.2 L915.0,346.7 L915.2,345.3 L915.5,343.8 L915.7,342.3 L916.0,340.8 L916.3,339.4 L916.7,337.9 L917.1,336.4 L917.5,334.9 L918.0,333.5 L918.5,332.2 L919.1,330.9 L919.9,329.6 L920.9,328.3 L921.9,327.2 L923.0,326.2 L924.2,325.4 L925.5,324.7 L926.9,324.0 L928.3,323.4 L929.7,322.9 L931.1,322.3 L932.5,321.8 L933.9,321.2 L935.4,320.8 L936.8,320.4 L938.3,320.2 L939.8,320.0 L941.3,319.8 L942.8,319.6 L944.3,319.5 L945.8,319.5 L947.2,319.6 L948.6,320.1 L950.0,320.8 L951.4,321.5 L952.7,322.2 L954.1,322.9 L955.5,323.6 L956.9,324.0 L958.3,324.0 L959.7,323.6 L961.1,322.9 L962.5,322.2 L963.8,321.4 L965.2,320.7 L966.5,320.0 L967.8,319.2 L969.2,318.4 L970.5,317.9 L972.0,317.6 L973.4,317.4 L975.0,317.3 L976.5,317.2 L978.0,317.2 L979.5,317.6 L981.0,318.2 L982.4,318.7 L983.7,318.8 L984.9,318.3 L986.0,317.1 L987.0,315.7 L987.9,314.4 L988.6,313.2 L989.2,311.8 L989.8,310.4 L990.3,308.9 L990.9,307.5 L991.4,306.0 L992.1,304.7 L992.8,303.4 L993.7,302.2 L994.7,300.9 L995.8,299.6 L997.0,298.7 L998.2,298.4 L999.5,298.7 L1000.9,299.5 L1002.3,300.4 L1003.6,301.2 L1004.7,302.2 L1005.9,303.4 L1007.0,304.4 L1008.2,305.1 L1009.6,305.5 L1011.1,305.8 L1012.6,305.9 L1013.9,305.6 L1015.1,304.8 L1016.2,303.6 L1017.3,302.4 L1018.5,301.4 L1019.9,300.7 L1021.3,300.1 L1022.8,299.6 L1024.2,299.4 L1025.6,299.7 L1027.0,300.4 L1028.3,301.2 L1029.7,301.8 L1031.1,302.5 L1032.5,303.3 L1033.9,303.9 L1035.3,304.2 L1036.7,304.2 L1038.2,303.8 L1039.6,303.3 L1041.0,302.6 L1042.3,302.0 L1043.5,301.1 L1044.6,300.1 L1045.7,299.0 L1046.9,298.0 L1048.0,297.1 L1049.3,296.3 L1050.6,295.5 L1052.0,294.8 L1053.3,294.2 L1054.8,293.7 L1056.2,293.5 L1057.7,293.3 L1059.2,293.0 L1060.7,292.8 L1062.1,292.4 L1063.6,291.9 L1065.0,291.4 L1066.4,290.9 L1067.8,290.3 L1069.2,289.6 L1070.6,288.9 L1071.9,288.4 L1073.4,288.2 L1074.8,288.3 L1076.3,288.6 L1077.8,289.1 L1079.2,289.5 L1080.6,290.1 L1081.8,291.0 L1083.1,292.0 L1084.4,292.7 L1085.8,293.0 L1087.5,293.3 L1088.8,293.4 L1089.6,292.3 L1090.4,291.0 L1091.4,289.8 L1092.4,288.7 L1093.5,287.7 L1094.6,286.7 L1095.8,285.7 L1096.9,284.7 L1098.1,283.7 L1099.3,282.6 L1100.5,281.7 L1101.7,281.0 L1103.1,280.5 L1104.5,280.1 L1106.0,279.8 L1107.5,279.6 L1109.0,279.8 L1110.4,280.3 L1111.9,280.9 L1113.3,281.4 L1114.8,281.7 L1116.2,281.6 L1117.6,281.2 L1118.9,280.6 L1120.3,279.9 L1121.7,279.1 L1123.1,278.5 L1124.5,277.9 L1125.9,277.3 L1127.4,276.7 L1128.8,276.4 L1130.2,276.3 L1131.8,276.5 L1133.3,276.8 L1134.6,277.2 L1135.8,278.0 L1136.9,279.0 L1138.0,280.2 L1139.1,281.3 L1140.3,282.3 L1141.5,283.3 L1142.7,284.4 L1144.0,285.4 L1145.2,286.1 L1146.5,286.3 L1147.9,286.0 L1149.3,285.3 L1150.7,284.4 L1151.9,283.6 L1152.9,282.6 L1153.9,281.5 L1154.9,280.3 L1155.8,279.0 L1156.8,277.9 L1157.8,276.7 L1158.8,275.5 L1159.8,274.4 L1160.8,273.2 L1161.9,272.2 L1163.0,271.3 L1164.2,270.5 L1165.5,269.6 L1166.9,268.9 L1168.4,268.3 L1169.8,268.0 L1171.2,268.0 L1172.7,268.2 L1174.2,268.5 L1175.7,269.0 L1177.1,269.5 L1178.4,270.0 L1179.7,270.8 L1180.8,271.8 L1182.0,272.9 L1183.0,274.0 L1184.1,275.1 L1185.0,276.2 L1186.0,277.4 L1186.8,278.6 L1187.7,279.8 L1188.6,281.1 L1189.4,282.3 L1190.4,283.5 L1191.3,284.7 L1192.2,286.0 L1193.1,287.2 L1194.1,288.3 L1195.1,289.3 L1196.3,290.2 L1197.7,291.0 L1199.1,291.7 L1200.5,292.0 L1201.9,291.6 L1203.2,290.7 L1204.4,289.7 L1205.4,288.7 L1206.3,287.6 L1207.1,286.3 L1207.9,285.0 L1208.6,283.6 L1209.3,282.2 L1210.1,280.9 L1210.8,279.6 L1211.4,278.2 L1212.1,276.9 L1212.7,275.5 L1213.3,274.1 L1214.0,272.8 L1214.7,271.5 L1215.5,270.2 L1216.2,268.9 L1217.0,267.5 L1217.9,266.3 L1218.8,265.1 L1219.8,264.0 L1220.8,263.0 L1222.0,262.0 L1223.3,261.2 L1224.7,260.5 L1226.1,260.2 L1227.5,259.9 L1229.1,259.8 L1230.6,259.7 L1232.1,259.6 L1233.6,259.8 L1235.1,260.2 L1236.5,260.7 L1237.9,261.2 L1239.2,261.9 L1240.3,262.8 L1241.5,263.8 L1242.5,265.0 L1243.5,266.1 L1244.4,267.3 L1245.3,268.5 L1246.1,269.8 L1246.9,271.1 L1247.6,272.4 L1248.4,273.7 L1249.2,274.9 L1250.0,276.2 L1250.8,277.5 L1251.6,278.8 L1252.4,280.1 L1253.2,281.3 L1254.0,282.6 L1254.9,283.9 L1255.8,285.2 L1256.7,286.3 L1257.8,287.3 L1259.0,288.0 L1260.5,288.7 L1261.9,289.0 L1263.3,288.8 L1264.7,288.1 L1266.0,287.3 L1267.3,286.4 L1268.4,285.5 L1269.5,284.4 L1270.5,283.3 L1271.5,282.2 L1272.6,281.1 L1273.6,280.0 L1274.7,278.9 L1275.8,277.8 L1276.9,276.8 L1278.1,275.9 L1279.3,275.2 L1280.7,274.6 L1282.2,274.1 L1283.7,273.8 L1285.1,273.8 L1286.7,273.9 L1288.2,274.0 L1289.7,274.2 L1291.1,274.4 L1292.6,274.7 L1294.0,275.3 L1295.4,275.9 L1296.7,276.7 L1298.0,277.6 L1299.2,278.4 L1300.3,279.3 L1301.5,280.3 L1302.5,281.4 L1303.5,282.6 L1304.5,283.7 L1305.4,284.9 L1306.2,286.2 L1307.0,287.4 L1307.7,288.8 L1308.4,290.1 L1309.1,291.5 L1309.7,292.8 L1310.3,294.2 L1310.9,295.6 L1311.4,297.0 L1311.9,298.4 L1312.3,299.9 L1312.8,301.3 L1313.3,302.7 L1313.8,304.1 L1314.4,305.5 L1315.0,307.0 L1315.6,308.4 L1316.3,309.8 L1317.0,311.0 L1318.0,311.9 L1319.5,312.8 L1320.9,313.4 L1322.2,313.3 L1323.4,312.3 L1324.4,310.9 L1325.0,309.6 L1325.4,308.2 L1325.7,306.6 L1326.1,305.1 L1326.5,303.7 L1327.2,302.3 L1328.3,300.9 L1329.0,300.6 L1329.5,301.3 L1329.9,302.6 L1330.3,304.4 L1330.6,306.3 L1330.8,308.2 L1331.0,309.7 L1331.1,311.2 L1331.2,312.7 L1331.4,314.2 L1331.5,315.7 L1331.6,317.2 L1331.7,318.7 L1331.7,320.2 L1331.8,321.7 L1331.9,323.2 L1332.0,324.7 L1332.0,326.2 L1332.1,327.7 L1332.2,329.2 L1332.2,330.7 L1332.3,332.2 L1332.4,333.7 L1332.4,335.2 L1332.5,336.7 L1332.6,338.2 L1332.6,339.7 L1332.7,341.2 L1332.8,342.7 L1332.8,344.2 L1332.9,345.7 L1332.9,347.2 L1333.0,348.7 L1333.0,350.2 L1333.1,351.7 L1333.2,353.2 L1333.2,354.7 L1333.3,356.2 L1333.3,357.7 L1333.4,359.2 L1333.4,360.7 L1333.5,362.2 L1333.6,363.7 L1333.6,365.2 L1333.7,366.7 L1333.8,368.2 L1333.8,369.7 L1333.9,371.2 L1334.0,372.7 L1334.0,374.2 L1334.1,375.7 L1334.2,377.2 L1334.3,378.7 L1334.3,380.2 L1334.4,381.7 L1334.5,383.2 L1334.6,384.7 L1334.6,386.2 L1334.7,387.7 L1334.8,389.2 L1334.8,390.7 L1334.9,392.2 L1335.0,393.7 L1335.0,395.2 L1335.1,396.7 L1335.1,398.2 L1335.2,399.7 L1335.3,401.1 L1335.3,402.6 L1335.4,404.1 L1335.4,405.6 L1335.5,407.1 L1335.5,408.6 L1335.5,410.1 L1335.6,411.6 L1335.6,413.1 L1335.7,414.6 L1335.7,416.1 L1335.8,417.6 L1335.8,419.1 L1335.9,420.6 L1335.9,422.1 L1335.9,423.6 L1336.0,425.1 L1336.0,426.6 L1336.1,428.1 L1336.1,429.6 L1336.2,431.1 L1336.2,432.6 L1336.3,434.1 L1336.3,435.6 L1336.4,437.1 L1336.4,438.6 L1336.5,440.1 L1336.5,441.6 L1336.6,443.1 L1336.6,444.6 L1336.6,446.1 L1336.7,447.6 L1336.7,449.1 L1336.8,450.6 L1336.8,452.1 L1336.9,453.6 L1336.9,455.1 L1337.0,456.6 L1337.0,458.1 L1337.1,459.6 L1337.1,461.1 L1337.2,462.6 L1337.2,464.1 L1337.3,465.6 L1337.3,467.1 L1337.4,468.6 L1337.4,470.1 L1337.4,471.6 L1337.5,473.1 L1337.5,474.6 L1337.6,476.1 L1337.6,477.6 L1337.7,479.1 L1337.7,480.6 L1337.8,482.1 L1337.8,483.6 L1337.9,485.1 L1337.9,486.6 L1337.9,488.1 L1338.0,489.6 L1338.0,491.1 L1338.1,492.6 L1338.1,494.1 L1338.2,495.6 L1338.2,497.1 L1338.3,498.6 L1338.3,500.1 L1338.3,501.6 L1338.4,503.1 L1338.4,504.6 L1338.5,506.1 L1338.5,507.6 L1338.6,509.1 L1338.6,510.6 L1338.6,512.1 L1338.7,513.6 L1338.7,515.1 L1338.8,516.6 L1338.8,518.1 L1338.9,519.6 L1338.9,521.1 L1338.9,522.6 L1339.0,524.1 L1339.0,525.6 L1339.1,527.1 L1339.1,528.6 L1339.1,530.1 L1339.2,531.6 L1339.2,533.1 L1339.3,534.6 L1339.3,536.1 L1339.3,537.6 L1339.4,539.1 L1339.4,540.6 L1339.5,542.1 L1339.5,543.6 L1339.5,545.1 L1339.6,546.6 L1339.6,548.1 L1339.7,549.6 L1339.7,551.1 L1339.7,552.6 L1339.8,554.1 L1339.8,555.6 L1339.9,557.1 L1339.9,558.6 L1340.0,560.1 L1340.0,561.6 L1340.0,563.1 L1340.1,564.6 L1340.1,566.1 L1340.2,567.6 L1340.2,569.1 L1340.2,570.6 L1340.3,572.1 L1340.3,573.6 L1340.4,575.1 L1340.4,576.6 L1340.4,578.1 L1340.5,579.6 L1340.5,581.1 L1340.6,582.6 L1340.6,584.1 L1340.7,585.6 L1340.7,587.1 L1340.7,588.6 L1340.8,590.1 L1340.8,591.6 L1340.9,593.1 L1340.9,594.6 L1340.9,596.1 L1341.0,597.6 L1341.0,599.1 L1341.1,600.6 L1341.1,602.1 L1341.2,603.6 L1341.2,605.1 L1341.2,606.6 L1341.3,608.1 L1341.3,609.6 L1341.4,611.1 L1341.4,612.6 L1341.5,614.1 L1341.5,615.6 L1341.5,617.1 L1341.6,618.6 L1341.6,620.1 L1341.7,621.6 L1341.7,623.1 L1341.7,624.6 L1341.8,626.1 L1341.8,627.6 L1341.9,629.1 L1341.9,630.6 L1342.0,632.1 L1342.0,633.6 L1342.1,635.1 L1342.1,636.5 L1342.1,638.0 L1342.2,639.5 L1342.2,641.0 L1342.3,642.5 L1342.3,644.0 L1342.4,645.5 L1342.4,647.0 L1342.5,648.5 L1342.5,650.0 L1342.6,651.5 L1342.6,653.0 L1342.7,654.5 L1342.7,656.0 L1342.7,657.5 L1342.8,659.0 L1342.8,660.5 L1342.9,662.0 L1342.9,663.5 L1343.0,665.0 L1343.0,666.5 L1343.1,668.0 L1343.1,669.5 L1343.2,671.0 L1343.2,672.5 L1343.3,674.0 L1343.3,675.5 L1343.4,677.0 L1343.5,678.5 L1343.5,680.0 L1343.6,681.5 L1343.6,683.0 L1343.7,684.5 L1343.8,686.0 L1343.8,687.5 L1343.9,689.0 L1344.0,690.5 L1344.0,692.0 L1344.1,693.5 L1344.2,695.0 L1344.2,696.5 L1344.3,698.0 L1344.4,699.5 L1344.5,701.0 L1344.5,702.5 L1344.6,704.0 L1344.7,705.5 L1344.8,707.0 L1344.8,708.5 L1344.9,710.0 L1345.0,711.5 L1345.1,713.0 L1345.1,714.5 L1345.2,716.0 L1345.3,717.5 L1345.4,719.0 L1345.4,720.5 L1345.5,722.0 L1345.6,723.5 L1345.7,725.0 L1345.7,726.5 L1345.8,728.0 L1345.9,729.5 L1346.0,731.0 L1346.1,732.5 L1346.2,734.0 L1346.2,735.5 L1346.3,737.0 L1346.4,738.5 L1346.5,740.0 L1346.6,741.4 L1346.7,742.9 L1346.9,744.4 L1347.0,745.9 L1347.1,747.4 L1347.2,748.9 L1347.3,750.4 L1347.5,751.9 L1347.6,753.4 L1347.7,754.9 L1347.9,756.4 L1348.0,757.9 L1348.1,759.4 L1348.3,760.9 L1348.4,762.4 L1348.5,763.9 L1348.7,765.4 L1348.8,766.9 L1348.9,768.4 L1349.1,769.9 L1349.2,771.3 L1349.3,772.8 L1349.5,774.3 L1349.6,775.8 L1349.8,777.3 L1349.9,778.8 L1350.1,780.3 L1350.3,781.8 L1350.5,783.3 L1350.7,784.7 L1351.0,786.2 L1351.3,787.7 L1351.6,789.2 L1351.9,790.7 L1352.2,792.1 L1352.6,793.6 L1353.0,795.0 L1353.4,796.5 L1353.8,797.9 L1354.3,799.4 L1354.8,800.8 L1355.3,802.3 L1355.9,803.7 L1356.5,805.0 L1357.2,806.2 L1358.1,807.4 L1359.1,808.6 L1360.2,809.6 L1361.3,810.6 L1362.5,811.5 L1363.7,812.4 L1365.0,813.3 L1366.3,814.1 L1367.7,814.8 L1369.0,815.3 L1370.4,815.6 L1371.9,815.9 L1373.3,816.2 L1374.8,816.5 L1376.3,816.8 L1377.8,817.0 L1379.4,817.1 L1380.9,817.2 L1382.4,817.3 L1383.9,817.3 L1385.4,817.3 L1386.9,817.3 L1388.4,817.3 L1389.9,817.3 L1391.4,817.3 L1392.9,817.3 L1394.4,817.3 L1395.9,817.3 L1397.4,817.3 L1398.9,817.3 L1400.0,817.3" stroke="#b22222" stroke-width="6.25" fill="none" stroke-linejoin="round" stroke-linecap="square"/>
<path d="M763.6,824.0 L764.6,782.5 L766.7,824.0 L768.8,784.5 L770.7,824.0 L772.7,766.2 L773.4,824.0 L781.0,824.0 L780.4,789.1 L782.3,824.0 L784.2,782.9 L786.9,824.0 L789.6,795.4 L791.0,824.0 L792.5,798.3 L793.5,824.0 L795.6,824.0 L797.5,807.5 L798.9,824.0 L800.3,806.0 L801.6,824.0 L802.9,800.0 L804.2,824.0 L805.5,806.0 L807.0,824.0 L809.3,822.0 L814.5,578.0 L817.2,722.0 L819.2,418.5 L822.6,546.9 L825.6,465.9 L828.8,533.1 L832.8,456.4 L835.1,525.6 L838.1,483.4 L840.8,579.2 L843.7,515.8 L846.7,536.7 L849.2,518.3 L852.5,562.5 L854.2,521.7 L856.7,566.7 L858.7,528.3 L860.8,556.7 L864.0,505.6 L866.0,574.5 L868.1,505.0 L869.7,546.7 L871.7,516.7 L875.8,566.7 L877.5,524.2 L881.2,591.7 L882.8,516.7 L885.8,576.7 L887.5,573.3 L890.0,600.0 L892.2,576.7 L894.7,626.7 L895.8,568.3 L898.3,635.0 L900.5,563.3 L903.3,620.0 L907.5,550.8 L910.5,589.2 L912.5,558.3 L914.2,583.3 L916.2,548.0 L917.2,597.5 L920.0,573.3 L922.5,585.0 L927.0,565.0 L929.2,618.0 L932.0,590.0 L935.0,613.3 L939.2,578.3 L943.3,616.7 L948.0,569.2 L950.8,645.0 L954.2,569.7 L959.2,630.0 L964.2,580.0 L966.7,605.0 L970.3,546.7 L973.3,620.0 L976.7,571.7 L980.8,628.3 L983.3,571.7 L989.2,589.2 L991.7,525.0 L995.8,578.3 L1000.5,531.7 L1002.5,585.0 L1005.8,550.8 L1007.5,580.0 L1013.3,553.3 L1015.0,568.3 L1018.7,534.2 L1022.5,569.2 L1025.0,561.7 L1027.5,593.3 L1031.7,570.0 L1035.0,587.5 L1036.7,557.5 L1040.0,581.7 L1042.5,571.7 L1046.0,611.7 L1048.5,576.7 L1052.7,627.5 L1060.2,596.7 L1063.5,613.3 L1068.2,584.2 L1069.3,627.5 L1073.0,599.2 L1076.0,621.7 L1079.0,598.3 L1081.0,610.0 L1083.2,603.3 L1084.3,700.3 L1087.2,642.0 L1089.7,683.7 L1091.8,618.3 L1096.0,636.7 L1101.0,605.0 L1102.7,623.3 L1104.3,610.0 L1106.0,675.3 L1108.8,612.0 L1111.3,660.0 L1113.0,598.3 L1115.7,616.7 L1118.5,605.0 L1122.7,620.0 L1123.8,597.5 L1126.8,606.7 L1128.5,603.3 L1131.0,610.8 L1135.2,595.0 L1137.7,618.3 L1139.7,577.0 L1142.0,616.7 L1143.5,587.5 L1146.8,641.7 L1151.8,574.7 L1155.2,596.7 L1156.8,590.0 L1159.3,607.5 L1161.0,584.2 L1163.0,625.0 L1165.5,545.0 L1168.0,586.7 L1170.2,579.2 L1171.8,600.0 L1175.2,590.0 L1176.8,595.0 L1178.5,583.3 L1180.2,620.0 L1182.7,544.7 L1184.8,583.3 L1186.8,566.7 L1186.8,615.8 L1191.8,578.3 L1192.7,614.2 L1194.7,580.0 L1196.8,605.0 L1197.7,565.0 L1201.0,600.0 L1205.2,580.0 L1206.0,601.7 L1209.3,590.0 L1211.0,611.7 L1211.8,590.8 L1216.8,622.5 L1219.0,594.2 L1221.0,616.7 L1223.5,605.0 L1224.3,620.8 L1229.0,610.0 L1234.3,635.0 L1236.0,626.7 L1238.0,630.0 L1240.7,623.0 L1242.7,634.2 L1246.8,626.7 L1249.3,631.7 L1250.2,630.0 L1252.2,634.2 L1255.2,614.2 L1258.5,630.0 L1260.2,630.0 L1262.7,633.3 L1263.5,621.7 L1266.8,633.3 L1268.5,626.7 L1270.7,640.0 L1274.3,616.7 L1276.8,633.3 L1278.0,623.3 L1280.7,643.3 L1283.8,595.3 L1287.7,675.8 L1290.5,626.7 L1292.7,658.3 L1294.3,593.7 L1297.2,646.7 L1299.7,633.3 L1301.3,641.7 L1303.8,625.0 L1308.0,653.3 L1310.5,633.3 L1313.3,673.3 L1315.8,595.0 L1322.2,663.3 L1326.0,618.7 L1332.2,674.2 L1335.5,628.3 L1338.8,650.8 L1341.3,605.8 L1343.8,643.3 L1346.3,600.8 L1348.8,664.2 L1352.2,590.0 L1354.7,626.7 L1357.2,602.5 L1356.7,654.2 L1359.7,626.7 L1362.2,651.7 L1363.8,633.3 L1365.5,660.0 L1367.2,598.0 L1370.5,641.7 L1373.8,634.7 L1376.3,655.0 L1379.7,646.7 L1383.0,658.3 L1385.5,650.0 L1388.8,662.5 L1390.5,642.0 L1393.8,662.5 L1397.2,645.3 L1402.7,663.3 L1407.2,650.8 L1411.3,661.7 L1416.0,642.5 L1418.3,650.0 L1420.5,646.7 L1428.0,671.7 L1431.3,648.3 L1435.5,680.8 L1437.2,646.7 L1440.5,670.0 L1444.7,644.2 L1449.7,678.3 L1452.2,641.7 L1454.7,685.0 L1459.3,639.7 L1461.3,663.3 L1464.7,643.3 L1466.3,673.3 L1472.2,646.7 L1478.0,660.0 L1482.2,655.0 L1486.3,658.3" stroke="#000000" stroke-width="6.67" fill="none" stroke-linejoin="round" stroke-linecap="square"/>
</g>
<rect x="183.2" y="17.6" width="1300.8" height="799.0" fill="none" stroke="#000" stroke-width="3.33" stroke-linejoin="miter"/>
<line x1="183.2" y1="816.6" x2="183.2" y2="831.2" stroke="#000" stroke-width="3.33"/>
<text x="183.2" y="881.2" font-size="50" text-anchor="middle">0.6</text>
<line x1="472.3" y1="816.6" x2="472.3" y2="831.2" stroke="#000" stroke-width="3.33"/>
<text x="472.3" y="881.2" font-size="50" text-anchor="middle">0.8</text>
<line x1="761.3" y1="816.6" x2="761.3" y2="831.2" stroke="#000" stroke-width="3.33"/>
<text x="761.3" y="881.2" font-size="50" text-anchor="middle">1.0</text>
<line x1="1050.4" y1="816.6" x2="1050.4" y2="831.2" stroke="#000" stroke-width="3.33"/>
<text x="1050.4" y="881.2" font-size="50" text-anchor="middle">1.2</text>
<line x1="1339.5" y1="816.6" x2="1339.5" y2="831.2" stroke="#000" stroke-width="3.33"/>
<text x="1339.5" y="881.2" font-size="50" text-anchor="middle">1.4</text>
<line x1="168.6" y1="816.6" x2="183.2" y2="816.6" stroke="#000" stroke-width="3.33"/>
<text x="157.0" y="836.1" font-size="50" text-anchor="end">0</text>
<line x1="168.6" y1="616.9" x2="183.2" y2="616.9" stroke="#000" stroke-width="3.33"/>
<text x="157.0" y="636.4" font-size="50" text-anchor="end">0.5</text>
<line x1="168.6" y1="417.1" x2="183.2" y2="417.1" stroke="#000" stroke-width="3.33"/>
<text x="157.0" y="436.6" font-size="50" text-anchor="end">1.0</text>
<line x1="168.6" y1="217.4" x2="183.2" y2="217.4" stroke="#000" stroke-width="3.33"/>
<text x="157.0" y="236.9" font-size="50" text-anchor="end">1.5</text>
<line x1="168.6" y1="17.6" x2="183.2" y2="17.6" stroke="#000" stroke-width="3.33"/>
<text x="157.0" y="37.1" font-size="50" text-anchor="end">2.0</text>
<text x="601.1" y="946.5" font-size="54.17">Wavelength<tspan dx="-1.7"> (</tspan><tspan class="it">μm</tspan>)</text>
<text transform="translate(51.0,784.1) rotate(-90)" font-size="54.17" x="0" y="0">F<tspan font-size="37.92" dy="9" dx="-2.5">λ</tspan><tspan dy="-9" dx="3.5">(10</tspan><tspan font-size="37.92" dy="-20" dx="-0.5">−17</tspan><tspan dy="20" dx="0.5" class="it"> erg s</tspan><tspan font-size="37.92" dy="-20" dx="1.3">−1</tspan><tspan dy="20" class="it"> cm</tspan><tspan font-size="37.92" dy="-20" dx="2">−2</tspan><tspan dy="20" dx="1" class="it"> Å</tspan><tspan font-size="37.92" dy="-20" dx="4.3">−1</tspan><tspan dy="20" dx="1">)</tspan></text>
<rect x="211.3" y="46.2" width="1084.4" height="101.0" rx="9.5" ry="9.5" fill="#ffffff" fill-opacity="0.8" stroke="#cccccc" stroke-opacity="0.8" stroke-width="4.0"/>
<line x1="230.8" y1="92.4" x2="352.0" y2="92.4" stroke="#000" stroke-width="6.67"/>
<text x="394.8" y="112.7" font-size="57.2">Quasar J1342+0928 at z=7.54</text>
<text id="f814" transform="translate(0,339.2) scale(0.9,1)" font-size="62.6" x="444.0 483.1 514.5 549.5 593.1" y="0" style="fill:#191970;stroke:#191970;stroke-width:0.8;stroke-linejoin:round">F814W</text>
<text id="f105" transform="translate(0,279.2) scale(0.9,1)" font-size="62.6" x="781.5 813.0 848.9 891.5 930.7" y="0" style="fill:#ff4500;stroke:#ff4500;stroke-width:0.8;stroke-linejoin:round">F105W</text>
<text id="f125" transform="translate(0,239.5) scale(0.9,1)" font-size="62.6" x="1119.4 1151.8 1186.3 1225.3 1267.3" y="0" style="fill:#b22222;stroke:#b22222;stroke-width:0.8;stroke-linejoin:round">F125W</text>
</svg>
</body></html>
